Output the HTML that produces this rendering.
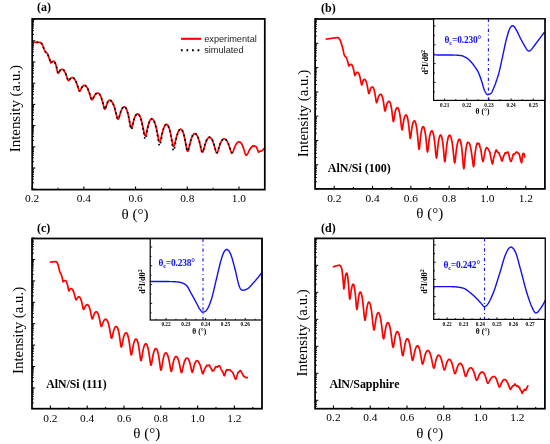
<!DOCTYPE html>
<html><head><meta charset="utf-8"><title>XRR figure</title>
<style>html,body{margin:0;padding:0;background:#fff;width:550px;height:444px;overflow:hidden}svg{display:block}</style>
</head><body>
<svg width="550" height="444" viewBox="0 0 550 444" font-family="'Liberation Serif', 'Times New Roman', serif">
<rect width="550" height="444" fill="#fff"/>
<text x="37.1" y="11.4" font-size="12" font-weight="bold">(a)</text>
<path d="M32.2,19.6h3.2M32.2,40.8h3.2M32.2,34.42h1.8M32.2,30.69h1.8M32.2,28.04h1.8M32.2,25.98h1.8M32.2,24.3h1.8M32.2,22.88h1.8M32.2,21.65h1.8M32.2,20.57h1.8M32.2,62h3.2M32.2,55.62h1.8M32.2,51.89h1.8M32.2,49.24h1.8M32.2,47.18h1.8M32.2,45.5h1.8M32.2,44.08h1.8M32.2,42.85h1.8M32.2,41.77h1.8M32.2,83.2h3.2M32.2,76.82h1.8M32.2,73.09h1.8M32.2,70.44h1.8M32.2,68.38h1.8M32.2,66.7h1.8M32.2,65.28h1.8M32.2,64.05h1.8M32.2,62.97h1.8M32.2,104.4h3.2M32.2,98.02h1.8M32.2,94.29h1.8M32.2,91.64h1.8M32.2,89.58h1.8M32.2,87.9h1.8M32.2,86.48h1.8M32.2,85.25h1.8M32.2,84.17h1.8M32.2,125.6h3.2M32.2,119.22h1.8M32.2,115.49h1.8M32.2,112.84h1.8M32.2,110.78h1.8M32.2,109.1h1.8M32.2,107.68h1.8M32.2,106.45h1.8M32.2,105.37h1.8M32.2,146.8h3.2M32.2,140.42h1.8M32.2,136.69h1.8M32.2,134.04h1.8M32.2,131.98h1.8M32.2,130.3h1.8M32.2,128.88h1.8M32.2,127.65h1.8M32.2,126.57h1.8M32.2,168h3.2M32.2,161.62h1.8M32.2,157.89h1.8M32.2,155.24h1.8M32.2,153.18h1.8M32.2,151.5h1.8M32.2,150.08h1.8M32.2,148.85h1.8M32.2,147.77h1.8M32.2,189.2h3.2M32.2,182.82h1.8M32.2,179.09h1.8M32.2,176.44h1.8M32.2,174.38h1.8M32.2,172.7h1.8M32.2,171.28h1.8M32.2,170.05h1.8M32.2,168.97h1.8" stroke="#000" stroke-width="1.0" fill="none"/>
<path d="M32.2,189.6v-3.2M83.89,189.6v-3.2M135.58,189.6v-3.2M187.27,189.6v-3.2M238.96,189.6v-3.2M58.04,189.6v-1.8M109.73,189.6v-1.8M161.42,189.6v-1.8M213.11,189.6v-1.8" stroke="#000" stroke-width="1.1" fill="none"/>
<text x="32.2" y="202.2" font-size="11.4" text-anchor="middle">0.2</text>
<text x="83.89" y="202.2" font-size="11.4" text-anchor="middle">0.4</text>
<text x="135.58" y="202.2" font-size="11.4" text-anchor="middle">0.6</text>
<text x="187.27" y="202.2" font-size="11.4" text-anchor="middle">0.8</text>
<text x="238.96" y="202.2" font-size="11.4" text-anchor="middle">1.0</text>
<path d="M32.8,42.4 L33.05,42.38 L33.31,42.37 L33.56,42.35 L33.81,42.34 L34.07,42.33 L34.32,42.33 L34.57,42.32 L34.83,42.31 L35.08,42.31 L35.34,42.31 L35.59,42.3 L35.84,42.3 L36.1,42.3 L36.35,42.3 L36.6,42.3 L36.86,42.3 L37.11,42.3 L37.36,42.3 L37.62,42.31 L37.87,42.32 L38.12,42.33 L38.38,42.35 L38.63,42.36 L38.88,42.39 L39.14,42.41 L39.39,42.44 L39.65,42.47 L39.9,42.5 L40.15,42.54 L40.41,42.58 L40.66,42.65 L40.91,42.8 L41.17,43.03 L41.42,43.32 L41.67,43.67 L41.93,44.06 L42.18,44.47 L42.43,44.89 L42.69,45.36 L42.94,45.98 L43.19,46.69 L43.45,47.45 L43.7,48.21 L43.95,48.92 L44.21,49.52 L44.46,50.04 L44.72,50.53 L44.97,50.99 L45.22,51.4 L45.48,51.77 L45.73,52.07 L45.98,52.32 L46.24,52.54 L46.49,52.75 L46.74,52.96 L47,53.19 L47.25,53.47 L47.5,53.81 L47.76,54.28 L48.01,54.89 L48.26,55.61 L48.52,56.37 L48.77,57.14 L49.03,57.87 L49.28,58.57 L49.53,59.28 L49.79,59.99 L50.04,60.71 L50.29,61.43 L50.55,62.16 L50.8,62.9 L51.01,62.84 L51.22,62.67 L51.42,62.45 L51.63,62.22 L51.84,62.01 L52.05,61.81 L52.25,61.65 L52.46,61.51 L52.67,61.39 L52.88,61.31 L53.08,61.25 L53.29,61.21 L53.5,61.2 L53.7,61.23 L53.91,61.31 L54.11,61.44 L54.32,61.63 L54.52,61.88 L54.73,62.18 L54.93,62.54 L55.13,62.96 L55.34,63.44 L55.54,63.98 L55.75,64.59 L55.95,65.26 L56.16,65.98 L56.36,66.77 L56.57,67.62 L56.77,68.5 L56.97,69.42 L57.18,70.34 L57.38,71.22 L57.59,72 L57.79,72.64 L58,73.05 L58.2,73.2 L58.41,73.12 L58.62,72.91 L58.83,72.6 L59.04,72.24 L59.26,71.86 L59.47,71.48 L59.68,71.13 L59.89,70.8 L60.1,70.51 L60.31,70.25 L60.52,70.02 L60.73,69.83 L60.94,69.66 L61.16,69.53 L61.37,69.43 L61.58,69.36 L61.79,69.31 L62,69.3 L62.21,69.31 L62.41,69.35 L62.62,69.42 L62.83,69.51 L63.03,69.63 L63.24,69.78 L63.44,69.95 L63.65,70.16 L63.86,70.39 L64.06,70.65 L64.27,70.93 L64.47,71.25 L64.68,71.6 L64.89,71.98 L65.09,72.39 L65.3,72.83 L65.51,73.3 L65.71,73.8 L65.92,74.33 L66.12,74.89 L66.33,75.47 L66.54,76.08 L66.74,76.7 L66.95,77.33 L67.16,77.95 L67.36,78.56 L67.57,79.13 L67.77,79.65 L67.98,80.09 L68.19,80.42 L68.39,80.63 L68.6,80.7 L68.81,80.64 L69.01,80.47 L69.22,80.22 L69.42,79.93 L69.63,79.63 L69.83,79.33 L70.04,79.05 L70.24,78.79 L70.45,78.56 L70.66,78.35 L70.86,78.17 L71.07,78.02 L71.27,77.89 L71.48,77.78 L71.68,77.7 L71.89,77.65 L72.09,77.61 L72.3,77.6 L72.5,77.61 L72.7,77.65 L72.9,77.7 L73.1,77.79 L73.3,77.89 L73.5,78.02 L73.7,78.17 L73.9,78.35 L74.1,78.55 L74.3,78.78 L74.5,79.03 L74.7,79.31 L74.9,79.61 L75.1,79.94 L75.3,80.29 L75.5,80.67 L75.7,81.08 L75.9,81.52 L76.1,81.98 L76.3,82.47 L76.5,82.99 L76.7,83.53 L76.9,84.1 L77.1,84.69 L77.3,85.3 L77.5,85.92 L77.7,86.56 L77.9,87.2 L78.1,87.83 L78.3,88.45 L78.5,89.03 L78.7,89.58 L78.9,90.06 L79.1,90.45 L79.3,90.75 L79.5,90.94 L79.7,91 L79.9,90.93 L80.11,90.74 L80.31,90.44 L80.52,90.07 L80.72,89.66 L80.93,89.24 L81.13,88.81 L81.33,88.39 L81.54,88 L81.74,87.63 L81.95,87.29 L82.15,86.98 L82.36,86.7 L82.56,86.45 L82.77,86.22 L82.97,86.03 L83.17,85.86 L83.38,85.72 L83.58,85.6 L83.79,85.51 L83.99,85.45 L84.2,85.41 L84.4,85.4 L84.61,85.41 L84.81,85.45 L85.02,85.51 L85.22,85.6 L85.43,85.71 L85.63,85.85 L85.84,86.02 L86.04,86.21 L86.25,86.42 L86.45,86.67 L86.66,86.94 L86.86,87.23 L87.07,87.56 L87.28,87.91 L87.48,88.29 L87.69,88.7 L87.89,89.14 L88.1,89.61 L88.3,90.11 L88.51,90.64 L88.71,91.19 L88.92,91.77 L89.12,92.38 L89.33,93.02 L89.54,93.67 L89.74,94.34 L89.95,95.02 L90.15,95.71 L90.36,96.39 L90.56,97.06 L90.77,97.69 L90.97,98.27 L91.18,98.78 L91.38,99.21 L91.59,99.53 L91.79,99.73 L92,99.8 L92.2,99.74 L92.41,99.58 L92.61,99.33 L92.81,99 L93.02,98.62 L93.22,98.21 L93.42,97.79 L93.63,97.36 L93.83,96.94 L94.04,96.53 L94.24,96.14 L94.44,95.77 L94.65,95.43 L94.85,95.1 L95.05,94.81 L95.26,94.53 L95.46,94.28 L95.66,94.05 L95.87,93.85 L96.07,93.67 L96.28,93.51 L96.48,93.37 L96.68,93.26 L96.89,93.17 L97.09,93.09 L97.29,93.04 L97.5,93.01 L97.7,93 L97.9,93.01 L98.11,93.06 L98.31,93.13 L98.51,93.24 L98.71,93.37 L98.92,93.54 L99.12,93.73 L99.32,93.96 L99.53,94.22 L99.73,94.51 L99.93,94.83 L100.13,95.18 L100.34,95.57 L100.54,95.99 L100.74,96.44 L100.94,96.93 L101.15,97.46 L101.35,98.01 L101.55,98.61 L101.76,99.23 L101.96,99.89 L102.16,100.59 L102.36,101.31 L102.57,102.06 L102.77,102.83 L102.97,103.61 L103.17,104.41 L103.38,105.2 L103.58,105.97 L103.78,106.71 L103.99,107.39 L104.19,108 L104.39,108.5 L104.59,108.88 L104.8,109.12 L105,109.2 L105.2,109.09 L105.41,108.78 L105.61,108.3 L105.82,107.71 L106.02,107.05 L106.23,106.36 L106.43,105.68 L106.63,105.01 L106.84,104.38 L107.04,103.79 L107.25,103.24 L107.45,102.74 L107.66,102.29 L107.86,101.88 L108.07,101.52 L108.27,101.21 L108.47,100.94 L108.68,100.71 L108.88,100.53 L109.09,100.38 L109.29,100.28 L109.5,100.22 L109.7,100.2 L109.9,100.21 L110.11,100.25 L110.31,100.32 L110.52,100.41 L110.72,100.54 L110.93,100.68 L111.13,100.86 L111.34,101.06 L111.54,101.29 L111.75,101.55 L111.95,101.84 L112.16,102.15 L112.36,102.5 L112.57,102.87 L112.77,103.28 L112.98,103.71 L113.18,104.18 L113.39,104.67 L113.59,105.2 L113.8,105.76 L114,106.35 L114.21,106.97 L114.41,107.62 L114.62,108.3 L114.82,109.01 L115.03,109.75 L115.23,110.51 L115.44,111.29 L115.64,112.09 L115.85,112.9 L116.05,113.71 L116.26,114.52 L116.46,115.31 L116.67,116.07 L116.87,116.78 L117.08,117.43 L117.28,118 L117.49,118.47 L117.69,118.81 L117.9,119.03 L118.1,119.1 L118.3,119.02 L118.51,118.78 L118.71,118.4 L118.91,117.9 L119.12,117.31 L119.32,116.67 L119.52,115.98 L119.73,115.29 L119.93,114.59 L120.13,113.9 L120.34,113.23 L120.54,112.59 L120.74,111.98 L120.95,111.41 L121.15,110.87 L121.35,110.36 L121.55,109.89 L121.76,109.45 L121.96,109.05 L122.16,108.68 L122.37,108.35 L122.57,108.05 L122.77,107.79 L122.98,107.55 L123.18,107.35 L123.38,107.18 L123.59,107.04 L123.79,106.94 L123.99,106.86 L124.2,106.82 L124.4,106.8 L124.6,106.82 L124.81,106.89 L125.01,106.99 L125.21,107.15 L125.41,107.34 L125.62,107.58 L125.82,107.87 L126.02,108.2 L126.23,108.57 L126.43,108.99 L126.63,109.46 L126.84,109.98 L127.04,110.54 L127.24,111.16 L127.44,111.82 L127.65,112.54 L127.85,113.3 L128.05,114.11 L128.26,114.98 L128.46,115.89 L128.66,116.85 L128.86,117.85 L129.07,118.89 L129.27,119.96 L129.47,121.04 L129.68,122.13 L129.88,123.21 L130.08,124.24 L130.29,125.2 L130.49,126.07 L130.69,126.79 L130.89,127.34 L131.1,127.68 L131.3,127.8 L131.5,127.71 L131.71,127.44 L131.91,127 L132.11,126.44 L132.32,125.78 L132.52,125.05 L132.72,124.28 L132.93,123.49 L133.13,122.7 L133.33,121.92 L133.54,121.17 L133.74,120.45 L133.94,119.76 L134.15,119.11 L134.35,118.49 L134.55,117.92 L134.75,117.39 L134.96,116.89 L135.16,116.44 L135.36,116.03 L135.57,115.65 L135.77,115.31 L135.97,115.01 L136.18,114.75 L136.38,114.52 L136.58,114.33 L136.79,114.18 L136.99,114.05 L137.19,113.97 L137.4,113.92 L137.6,113.9 L137.8,113.92 L138.01,113.97 L138.21,114.06 L138.41,114.19 L138.61,114.35 L138.82,114.55 L139.02,114.78 L139.22,115.06 L139.42,115.37 L139.63,115.72 L139.83,116.1 L140.03,116.53 L140.23,117 L140.44,117.5 L140.64,118.05 L140.84,118.64 L141.04,119.26 L141.25,119.94 L141.45,120.65 L141.65,121.4 L141.86,122.2 L142.06,123.03 L142.26,123.91 L142.46,124.82 L142.67,125.77 L142.87,126.74 L143.07,127.74 L143.27,128.74 L143.48,129.76 L143.68,130.76 L143.88,131.73 L144.08,132.65 L144.29,133.49 L144.49,134.24 L144.69,134.85 L144.89,135.32 L145.1,135.6 L145.3,135.7 L145.5,135.59 L145.71,135.28 L145.91,134.79 L146.11,134.14 L146.32,133.38 L146.52,132.53 L146.72,131.63 L146.93,130.7 L147.13,129.77 L147.33,128.85 L147.53,127.95 L147.74,127.09 L147.94,126.26 L148.14,125.47 L148.35,124.73 L148.55,124.03 L148.75,123.38 L148.96,122.77 L149.16,122.21 L149.36,121.7 L149.57,121.22 L149.77,120.8 L149.97,120.41 L150.18,120.07 L150.38,119.77 L150.58,119.51 L150.78,119.29 L150.99,119.11 L151.19,118.98 L151.39,118.88 L151.6,118.82 L151.8,118.8 L152,118.82 L152.21,118.87 L152.41,118.96 L152.61,119.09 L152.81,119.25 L153.02,119.45 L153.22,119.69 L153.42,119.96 L153.62,120.27 L153.83,120.62 L154.03,121.01 L154.23,121.43 L154.43,121.9 L154.64,122.4 L154.84,122.95 L155.04,123.54 L155.24,124.17 L155.45,124.84 L155.65,125.55 L155.85,126.3 L156.05,127.1 L156.26,127.93 L156.46,128.81 L156.66,129.73 L156.86,130.68 L157.07,131.66 L157.27,132.67 L157.47,133.7 L157.67,134.74 L157.88,135.77 L158.08,136.8 L158.28,137.79 L158.48,138.72 L158.69,139.58 L158.89,140.33 L159.09,140.95 L159.29,141.41 L159.5,141.7 L159.7,141.8 L159.9,141.7 L160.1,141.42 L160.3,140.96 L160.5,140.36 L160.7,139.65 L160.9,138.85 L161.1,137.99 L161.3,137.1 L161.5,136.2 L161.7,135.3 L161.9,134.42 L162.1,133.56 L162.3,132.73 L162.5,131.93 L162.7,131.18 L162.9,130.46 L163.1,129.79 L163.3,129.15 L163.5,128.56 L163.7,128.01 L163.9,127.5 L164.1,127.03 L164.3,126.61 L164.5,126.22 L164.7,125.87 L164.9,125.56 L165.1,125.28 L165.3,125.05 L165.5,124.85 L165.7,124.69 L165.9,124.56 L166.1,124.47 L166.3,124.42 L166.5,124.4 L166.7,124.42 L166.91,124.49 L167.11,124.59 L167.31,124.74 L167.51,124.94 L167.72,125.18 L167.92,125.46 L168.12,125.79 L168.33,126.16 L168.53,126.58 L168.73,127.04 L168.93,127.55 L169.14,128.11 L169.34,128.72 L169.54,129.38 L169.75,130.09 L169.95,130.84 L170.15,131.65 L170.35,132.51 L170.56,133.41 L170.76,134.37 L170.96,135.36 L171.17,136.4 L171.37,137.47 L171.57,138.57 L171.77,139.68 L171.98,140.8 L172.18,141.89 L172.38,142.93 L172.59,143.91 L172.79,144.77 L172.99,145.5 L173.19,146.04 L173.4,146.38 L173.6,146.5 L173.8,146.41 L174.01,146.14 L174.21,145.71 L174.41,145.15 L174.61,144.47 L174.82,143.71 L175.02,142.89 L175.22,142.03 L175.43,141.16 L175.63,140.29 L175.83,139.43 L176.03,138.59 L176.24,137.78 L176.44,137 L176.64,136.26 L176.85,135.55 L177.05,134.88 L177.25,134.24 L177.45,133.65 L177.66,133.1 L177.86,132.58 L178.06,132.11 L178.27,131.67 L178.47,131.27 L178.67,130.9 L178.87,130.58 L179.08,130.28 L179.28,130.03 L179.48,129.81 L179.69,129.62 L179.89,129.47 L180.09,129.35 L180.29,129.27 L180.5,129.22 L180.7,129.2 L180.9,129.22 L181.11,129.29 L181.31,129.4 L181.51,129.56 L181.71,129.77 L181.92,130.02 L182.12,130.32 L182.32,130.66 L182.53,131.06 L182.73,131.5 L182.93,131.99 L183.14,132.53 L183.34,133.12 L183.54,133.77 L183.74,134.46 L183.95,135.21 L184.15,136.01 L184.35,136.86 L184.56,137.77 L184.76,138.72 L184.96,139.73 L185.16,140.78 L185.37,141.87 L185.57,142.98 L185.77,144.12 L185.98,145.26 L186.18,146.39 L186.38,147.47 L186.59,148.48 L186.79,149.38 L186.99,150.14 L187.19,150.72 L187.4,151.08 L187.6,151.2 L187.8,151.11 L188.01,150.86 L188.21,150.44 L188.41,149.89 L188.61,149.24 L188.82,148.49 L189.02,147.69 L189.22,146.85 L189.43,145.99 L189.63,145.13 L189.83,144.28 L190.03,143.44 L190.24,142.63 L190.44,141.84 L190.64,141.09 L190.84,140.37 L191.05,139.69 L191.25,139.05 L191.45,138.44 L191.66,137.87 L191.86,137.34 L192.06,136.85 L192.26,136.39 L192.47,135.97 L192.67,135.59 L192.87,135.24 L193.07,134.92 L193.28,134.64 L193.48,134.4 L193.68,134.18 L193.89,134 L194.09,133.86 L194.29,133.75 L194.49,133.66 L194.7,133.62 L194.9,133.6 L195.1,133.62 L195.31,133.66 L195.51,133.75 L195.71,133.86 L195.91,134.01 L196.12,134.18 L196.32,134.4 L196.52,134.64 L196.72,134.92 L196.93,135.24 L197.13,135.59 L197.33,135.97 L197.54,136.39 L197.74,136.85 L197.94,137.34 L198.14,137.87 L198.35,138.44 L198.55,139.04 L198.75,139.68 L198.95,140.36 L199.16,141.08 L199.36,141.83 L199.56,142.62 L199.76,143.44 L199.97,144.28 L200.17,145.15 L200.37,146.03 L200.58,146.92 L200.78,147.8 L200.98,148.66 L201.18,149.47 L201.39,150.22 L201.59,150.89 L201.79,151.44 L201.99,151.85 L202.2,152.11 L202.4,152.2 L202.6,152.12 L202.81,151.89 L203.01,151.52 L203.21,151.03 L203.41,150.45 L203.62,149.8 L203.82,149.09 L204.02,148.35 L204.23,147.6 L204.43,146.85 L204.63,146.11 L204.83,145.39 L205.04,144.69 L205.24,144.02 L205.44,143.38 L205.65,142.77 L205.85,142.19 L206.05,141.64 L206.25,141.13 L206.46,140.66 L206.66,140.21 L206.86,139.8 L207.07,139.43 L207.27,139.08 L207.47,138.77 L207.67,138.49 L207.88,138.23 L208.08,138.01 L208.28,137.82 L208.49,137.66 L208.69,137.53 L208.89,137.43 L209.09,137.36 L209.3,137.31 L209.5,137.3 L209.7,137.31 L209.91,137.36 L210.11,137.43 L210.31,137.53 L210.51,137.66 L210.72,137.82 L210.92,138.01 L211.12,138.22 L211.32,138.47 L211.53,138.75 L211.73,139.06 L211.93,139.4 L212.14,139.77 L212.34,140.18 L212.54,140.62 L212.74,141.09 L212.95,141.59 L213.15,142.13 L213.35,142.7 L213.56,143.3 L213.76,143.94 L213.96,144.61 L214.16,145.3 L214.37,146.02 L214.57,146.76 L214.77,147.52 L214.98,148.29 L215.18,149.05 L215.38,149.79 L215.58,150.5 L215.79,151.16 L215.99,151.74 L216.19,152.23 L216.39,152.59 L216.6,152.82 L216.8,152.9 L217.01,152.83 L217.21,152.63 L217.42,152.3 L217.62,151.86 L217.83,151.34 L218.03,150.75 L218.24,150.11 L218.44,149.44 L218.65,148.76 L218.86,148.07 L219.06,147.39 L219.27,146.73 L219.47,146.08 L219.68,145.46 L219.88,144.86 L220.09,144.29 L220.29,143.75 L220.5,143.23 L220.71,142.75 L220.91,142.3 L221.12,141.88 L221.32,141.48 L221.53,141.12 L221.73,140.79 L221.94,140.48 L222.14,140.2 L222.35,139.95 L222.56,139.73 L222.76,139.53 L222.97,139.36 L223.17,139.22 L223.38,139.11 L223.58,139.02 L223.79,138.95 L223.99,138.91 L224.2,138.9 L224.4,138.91 L224.6,138.94 L224.8,139 L225,139.08 L225.2,139.17 L225.4,139.3 L225.6,139.44 L225.8,139.61 L226,139.79 L226.2,140.01 L226.4,140.24 L226.6,140.5 L226.8,140.79 L227,141.09 L227.2,141.43 L227.4,141.78 L227.6,142.17 L227.8,142.57 L228,143.01 L228.2,143.47 L228.4,143.95 L228.6,144.46 L228.8,144.99 L229,145.55 L229.2,146.13 L229.4,146.73 L229.6,147.34 L229.8,147.97 L230,148.6 L230.2,149.23 L230.4,149.85 L230.6,150.46 L230.8,151.03 L231,151.55 L231.2,152.01 L231.4,152.38 L231.6,152.67 L231.8,152.84 L232,152.9 L232.2,152.84 L232.41,152.67 L232.61,152.4 L232.81,152.03 L233.01,151.6 L233.22,151.11 L233.42,150.58 L233.62,150.03 L233.83,149.48 L234.03,148.92 L234.23,148.37 L234.43,147.83 L234.64,147.31 L234.84,146.81 L235.04,146.33 L235.25,145.87 L235.45,145.44 L235.65,145.04 L235.85,144.66 L236.06,144.3 L236.26,143.97 L236.46,143.66 L236.67,143.38 L236.87,143.13 L237.07,142.89 L237.27,142.68 L237.48,142.5 L237.68,142.33 L237.88,142.19 L238.09,142.07 L238.29,141.97 L238.49,141.9 L238.69,141.84 L238.9,141.81 L239.1,141.8 L239.3,141.81 L239.51,141.85 L239.71,141.92 L239.91,142.01 L240.11,142.13 L240.32,142.28 L240.52,142.46 L240.72,142.67 L240.93,142.9 L241.13,143.14 L241.33,143.41 L241.53,143.69 L241.74,143.99 L241.94,144.35 L242.14,144.76 L242.35,145.21 L242.55,145.69 L242.75,146.19 L242.95,146.7 L243.16,147.24 L243.36,147.81 L243.56,148.4 L243.77,149.02 L243.97,149.67 L244.17,150.33 L244.37,151 L244.58,151.67 L244.78,152.34 L244.98,152.99 L245.19,153.59 L245.39,154.13 L245.59,154.59 L245.79,154.95 L246,155.18 L246.2,155.27 L246.4,155.25 L246.61,155.13 L246.81,154.95 L247.01,154.7 L247.21,154.39 L247.42,154.07 L247.62,153.71 L247.82,153.33 L248.02,152.94 L248.23,152.5 L248.43,152.05 L248.63,151.59 L248.83,151.15 L249.04,150.73 L249.24,150.4 L249.44,150.09 L249.64,149.8 L249.85,149.53 L250.05,149.13 L250.25,148.68 L250.45,148.26 L250.66,147.85 L250.86,147.55 L251.06,147.49 L251.26,147.45 L251.47,147.42 L251.67,147.41 L251.87,147.07 L252.07,146.68 L252.28,146.31 L252.48,145.95 L252.68,145.77 L252.88,145.85 L253.09,145.94 L253.29,146.04 L253.49,146.16 L253.69,146.07 L253.9,145.98 L254.1,145.9 L254.31,145.84 L254.52,145.88 L254.73,145.98 L254.93,146.11 L255.14,146.28 L255.35,146.42 L255.56,146.49 L255.77,146.58 L255.98,146.69 L256.19,146.84 L256.4,147.15 L256.6,147.49 L256.81,147.87 L257.02,148.27 L257.23,148.8 L257.44,149.4 L257.65,150.02 L257.86,150.64 L258.07,151.2 L258.27,151.63 L258.48,151.99 L258.69,152.24 L258.9,152.36 L259.27,151.86 L259.63,151.36 L260,151.14 L260.37,151.14 L260.73,151.14 L261.1,151.05 L261.47,150.96 L261.83,150.82 L262.2,150.65 L262.57,150.4 L262.93,149.83 L263.3,149.25 L263.67,148.95 L264.03,148.74 L264.4,148.56" fill="none" stroke="#ff0000" stroke-width="1.7" stroke-linejoin="round" stroke-linecap="round"/>
<path d="M32.8,42.4 L33.05,42.38 L33.31,42.37 L33.56,42.35 L33.81,42.34 L34.07,42.33 L34.32,42.33 L34.57,42.32 L34.83,42.31 L35.08,42.31 L35.34,42.31 L35.59,42.3 L35.84,42.3 L36.1,42.3 L36.35,42.3 L36.6,42.3 L36.86,42.3 L37.11,42.3 L37.36,42.3 L37.62,42.31 L37.87,42.32 L38.12,42.33 L38.38,42.35 L38.63,42.36 L38.88,42.39 L39.14,42.41 L39.39,42.44 L39.65,42.47 L39.9,42.5 L40.15,42.54 L40.41,42.58 L40.66,42.65 L40.91,42.8 L41.17,43.03 L41.42,43.32 L41.67,43.67 L41.93,44.06 L42.18,44.47 L42.43,44.89 L42.69,45.36 L42.94,45.98 L43.19,46.69 L43.45,47.45 L43.7,48.21 L43.95,48.92 L44.21,49.52 L44.46,50.04 L44.72,50.53 L44.97,50.99 L45.22,51.4 L45.48,51.77 L45.73,52.07 L45.98,52.32 L46.24,52.54 L46.49,52.75 L46.74,52.96 L47,53.19 L47.25,53.47 L47.5,53.81 L47.76,54.28 L48.01,54.89 L48.26,55.61 L48.52,56.37 L48.77,57.14 L49.03,57.87 L49.28,58.57 L49.53,59.28 L49.79,59.99 L50.04,60.71 L50.29,61.43 L50.55,62.16 L50.8,62.9 L51.01,62.83 L51.22,62.64 L51.42,62.41 L51.63,62.18 L51.84,61.96 L52.05,61.77 L52.25,61.61 L52.46,61.48 L52.67,61.38 L52.88,61.3 L53.08,61.24 L53.29,61.21 L53.5,61.2 L53.7,61.22 L53.91,61.3 L54.11,61.42 L54.32,61.6 L54.52,61.82 L54.73,62.1 L54.93,62.44 L55.13,62.83 L55.34,63.27 L55.54,63.78 L55.75,64.35 L55.95,64.98 L56.16,65.68 L56.36,66.44 L56.57,67.27 L56.77,68.15 L56.97,69.08 L57.18,70.04 L57.38,70.97 L57.59,71.84 L57.79,72.55 L58,73.03 L58.2,73.2 L58.41,73.11 L58.62,72.87 L58.83,72.53 L59.04,72.14 L59.26,71.74 L59.47,71.37 L59.68,71.02 L59.89,70.7 L60.1,70.42 L60.31,70.18 L60.52,69.97 L60.73,69.78 L60.94,69.63 L61.16,69.51 L61.37,69.42 L61.58,69.35 L61.79,69.31 L62,69.3 L62.21,69.31 L62.41,69.35 L62.62,69.41 L62.83,69.49 L63.03,69.6 L63.24,69.74 L63.44,69.9 L63.65,70.09 L63.86,70.3 L64.06,70.54 L64.27,70.81 L64.47,71.1 L64.68,71.43 L64.89,71.78 L65.09,72.17 L65.3,72.59 L65.51,73.03 L65.71,73.51 L65.92,74.03 L66.12,74.57 L66.33,75.14 L66.54,75.75 L66.74,76.37 L66.95,77.02 L67.16,77.67 L67.36,78.31 L67.57,78.93 L67.77,79.5 L67.98,79.99 L68.19,80.37 L68.39,80.62 L68.6,80.7 L68.81,80.63 L69.01,80.44 L69.22,80.16 L69.42,79.86 L69.63,79.54 L69.83,79.24 L70.04,78.97 L70.24,78.72 L70.45,78.49 L70.66,78.3 L70.86,78.13 L71.07,77.99 L71.27,77.87 L71.48,77.77 L71.68,77.69 L71.89,77.64 L72.09,77.61 L72.3,77.6 L72.5,77.61 L72.7,77.64 L72.9,77.7 L73.1,77.77 L73.3,77.87 L73.5,77.99 L73.7,78.13 L73.9,78.29 L74.1,78.48 L74.3,78.68 L74.5,78.92 L74.7,79.17 L74.9,79.45 L75.1,79.76 L75.3,80.09 L75.5,80.45 L75.7,80.83 L75.9,81.25 L76.1,81.68 L76.3,82.15 L76.5,82.65 L76.7,83.17 L76.9,83.72 L77.1,84.3 L77.3,84.91 L77.5,85.53 L77.7,86.18 L77.9,86.83 L78.1,87.5 L78.3,88.15 L78.5,88.78 L78.7,89.38 L78.9,89.92 L79.1,90.37 L79.3,90.71 L79.5,90.93 L79.7,91 L79.9,90.92 L80.11,90.7 L80.31,90.36 L80.52,89.96 L80.72,89.52 L80.93,89.08 L81.13,88.65 L81.33,88.23 L81.54,87.85 L81.74,87.49 L81.95,87.17 L82.15,86.87 L82.36,86.6 L82.56,86.37 L82.77,86.16 L82.97,85.98 L83.17,85.82 L83.38,85.69 L83.58,85.59 L83.79,85.5 L83.99,85.45 L84.2,85.41 L84.4,85.4 L84.61,85.41 L84.81,85.45 L85.02,85.5 L85.22,85.58 L85.43,85.69 L85.63,85.82 L85.84,85.97 L86.04,86.14 L86.25,86.34 L86.45,86.57 L86.66,86.82 L86.86,87.09 L87.07,87.39 L87.28,87.72 L87.48,88.08 L87.69,88.46 L87.89,88.88 L88.1,89.32 L88.3,89.79 L88.51,90.29 L88.71,90.82 L88.92,91.39 L89.12,91.98 L89.33,92.6 L89.54,93.25 L89.74,93.92 L89.95,94.62 L90.15,95.32 L90.36,96.03 L90.56,96.74 L90.77,97.42 L90.97,98.06 L91.18,98.63 L91.38,99.12 L91.59,99.49 L91.79,99.72 L92,99.8 L92.2,99.73 L92.41,99.55 L92.61,99.26 L92.81,98.89 L93.02,98.48 L93.22,98.05 L93.42,97.6 L93.63,97.16 L93.83,96.74 L94.04,96.34 L94.24,95.96 L94.44,95.6 L94.65,95.27 L94.85,94.96 L95.05,94.68 L95.26,94.42 L95.46,94.18 L95.66,93.97 L95.87,93.78 L96.07,93.62 L96.28,93.47 L96.48,93.34 L96.68,93.24 L96.89,93.15 L97.09,93.09 L97.29,93.04 L97.5,93.01 L97.7,93 L97.9,93.01 L98.11,93.05 L98.31,93.12 L98.51,93.22 L98.71,93.34 L98.92,93.49 L99.12,93.67 L99.32,93.88 L99.53,94.12 L99.73,94.39 L99.93,94.68 L100.13,95.01 L100.34,95.37 L100.54,95.76 L100.74,96.19 L100.94,96.65 L101.15,97.14 L101.35,97.67 L101.55,98.23 L101.76,98.83 L101.96,99.47 L102.16,100.14 L102.36,100.85 L102.57,101.59 L102.77,102.35 L102.97,103.15 L103.17,103.96 L103.38,104.79 L103.58,105.6 L103.78,106.4 L103.99,107.15 L104.19,107.82 L104.39,108.39 L104.59,108.83 L104.8,109.11 L105,109.2 L105.2,109.07 L105.41,108.71 L105.61,108.18 L105.82,107.53 L106.02,106.83 L106.23,106.11 L106.43,105.42 L106.63,104.75 L106.84,104.13 L107.04,103.56 L107.25,103.04 L107.45,102.56 L107.66,102.14 L107.86,101.76 L108.07,101.42 L108.27,101.13 L108.47,100.88 L108.68,100.67 L108.88,100.5 L109.09,100.37 L109.29,100.27 L109.5,100.22 L109.7,100.2 L109.9,100.21 L110.11,100.25 L110.31,100.31 L110.52,100.4 L110.72,100.51 L110.93,100.64 L111.13,100.8 L111.34,100.99 L111.54,101.2 L111.75,101.44 L111.95,101.71 L112.16,102 L112.36,102.32 L112.57,102.67 L112.77,103.04 L112.98,103.45 L113.18,103.88 L113.39,104.35 L113.59,104.84 L113.8,105.37 L114,105.93 L114.21,106.52 L114.41,107.15 L114.62,107.8 L114.82,108.49 L115.03,109.21 L115.23,109.96 L115.44,110.74 L115.64,111.54 L115.85,112.36 L116.05,113.2 L116.26,114.04 L116.46,114.88 L116.67,115.7 L116.87,116.48 L117.08,117.2 L117.28,117.83 L117.49,118.37 L117.69,118.77 L117.9,119.02 L118.1,119.1 L118.3,119 L118.51,118.72 L118.71,118.29 L118.91,117.73 L119.12,117.09 L119.32,116.39 L119.52,115.67 L119.73,114.94 L119.93,114.23 L120.13,113.54 L120.34,112.88 L120.54,112.25 L120.74,111.66 L120.95,111.11 L121.15,110.59 L121.35,110.11 L121.55,109.66 L121.76,109.25 L121.96,108.88 L122.16,108.54 L122.37,108.23 L122.57,107.95 L122.77,107.71 L122.98,107.49 L123.18,107.31 L123.38,107.15 L123.59,107.02 L123.79,106.93 L123.99,106.86 L124.2,106.81 L124.4,106.8 L124.6,106.82 L124.81,106.88 L125.01,106.99 L125.21,107.14 L125.41,107.33 L125.62,107.57 L125.82,107.85 L126.02,108.17 L126.23,108.55 L126.43,108.96 L126.63,109.43 L126.84,109.94 L127.04,110.51 L127.24,111.12 L127.44,111.79 L127.65,112.51 L127.85,113.28 L128.05,114.11 L128.26,115 L128.46,115.94 L128.66,116.94 L128.86,117.99 L129.07,119.1 L129.27,120.24 L129.47,121.43 L129.68,122.63 L129.88,123.84 L130.08,125.02 L130.29,126.15 L130.49,127.18 L130.69,128.05 L130.89,128.73 L131.1,129.15 L131.3,129.3 L131.5,129.18 L131.71,128.83 L131.91,128.28 L132.11,127.58 L132.32,126.78 L132.52,125.91 L132.72,125 L132.93,124.1 L133.13,123.2 L133.33,122.34 L133.54,121.51 L133.74,120.73 L133.94,119.99 L134.15,119.29 L134.35,118.64 L134.55,118.04 L134.75,117.49 L134.96,116.97 L135.16,116.5 L135.36,116.08 L135.57,115.69 L135.77,115.34 L135.97,115.03 L136.18,114.77 L136.38,114.53 L136.58,114.34 L136.79,114.18 L136.99,114.06 L137.19,113.97 L137.4,113.92 L137.6,113.9 L137.8,113.92 L138.01,113.98 L138.21,114.07 L138.41,114.21 L138.61,114.38 L138.82,114.59 L139.02,114.84 L139.22,115.13 L139.42,115.46 L139.63,115.83 L139.83,116.25 L140.03,116.7 L140.23,117.2 L140.44,117.75 L140.64,118.33 L140.84,118.97 L141.04,119.65 L141.25,120.38 L141.45,121.16 L141.65,121.99 L141.86,122.87 L142.06,123.8 L142.26,124.78 L142.46,125.81 L142.67,126.89 L142.87,128.01 L143.07,129.16 L143.27,130.35 L143.48,131.56 L143.68,132.77 L143.88,133.97 L144.08,135.12 L144.29,136.19 L144.49,137.16 L144.69,137.97 L144.89,138.58 L145.1,138.97 L145.3,139.1 L145.5,138.95 L145.71,138.52 L145.91,137.84 L146.11,136.96 L146.32,135.95 L146.52,134.84 L146.72,133.7 L146.93,132.54 L147.13,131.39 L147.33,130.28 L147.53,129.21 L147.74,128.18 L147.94,127.21 L148.14,126.3 L148.35,125.45 L148.55,124.65 L148.75,123.91 L148.96,123.22 L149.16,122.59 L149.36,122.01 L149.57,121.49 L149.77,121.01 L149.97,120.58 L150.18,120.2 L150.38,119.87 L150.58,119.58 L150.78,119.34 L150.99,119.15 L151.19,118.99 L151.39,118.89 L151.6,118.82 L151.8,118.8 L152,118.82 L152.21,118.88 L152.41,118.97 L152.61,119.11 L152.81,119.28 L153.02,119.5 L153.22,119.75 L153.42,120.05 L153.62,120.38 L153.83,120.76 L154.03,121.18 L154.23,121.64 L154.43,122.14 L154.64,122.69 L154.84,123.29 L155.04,123.93 L155.24,124.62 L155.45,125.35 L155.65,126.14 L155.85,126.98 L156.05,127.86 L156.26,128.8 L156.46,129.79 L156.66,130.83 L156.86,131.92 L157.07,133.06 L157.27,134.23 L157.47,135.45 L157.67,136.69 L157.88,137.95 L158.08,139.21 L158.28,140.44 L158.48,141.63 L158.69,142.74 L158.89,143.72 L159.09,144.55 L159.29,145.18 L159.5,145.57 L159.7,145.7 L159.9,145.56 L160.1,145.16 L160.3,144.52 L160.5,143.69 L160.7,142.72 L160.9,141.65 L161.1,140.53 L161.3,139.39 L161.5,138.25 L161.7,137.13 L161.9,136.04 L162.1,135 L162.3,134 L162.5,133.06 L162.7,132.16 L162.9,131.32 L163.1,130.54 L163.3,129.8 L163.5,129.12 L163.7,128.49 L163.9,127.91 L164.1,127.38 L164.3,126.89 L164.5,126.45 L164.7,126.05 L164.9,125.7 L165.1,125.39 L165.3,125.13 L165.5,124.9 L165.7,124.72 L165.9,124.58 L166.1,124.48 L166.3,124.42 L166.5,124.4 L166.7,124.42 L166.91,124.49 L167.11,124.61 L167.31,124.78 L167.51,124.99 L167.72,125.25 L167.92,125.56 L168.12,125.92 L168.33,126.33 L168.53,126.79 L168.73,127.31 L168.93,127.87 L169.14,128.5 L169.34,129.17 L169.54,129.91 L169.75,130.7 L169.95,131.56 L170.15,132.47 L170.35,133.45 L170.56,134.49 L170.76,135.59 L170.96,136.75 L171.17,137.97 L171.37,139.25 L171.57,140.57 L171.77,141.92 L171.98,143.3 L172.18,144.67 L172.38,146.01 L172.59,147.28 L172.79,148.43 L172.99,149.41 L173.19,150.16 L173.4,150.64 L173.6,150.8 L173.8,150.67 L174.01,150.28 L174.21,149.67 L174.41,148.86 L174.61,147.92 L174.82,146.88 L175.02,145.79 L175.22,144.66 L175.43,143.54 L175.63,142.43 L175.83,141.35 L176.03,140.3 L176.24,139.31 L176.44,138.36 L176.64,137.45 L176.85,136.6 L177.05,135.81 L177.25,135.06 L177.45,134.36 L177.66,133.71 L177.86,133.11 L178.06,132.55 L178.27,132.04 L178.47,131.58 L178.67,131.16 L178.87,130.78 L179.08,130.44 L179.28,130.15 L179.48,129.9 L179.69,129.68 L179.89,129.51 L180.09,129.37 L180.29,129.28 L180.5,129.22 L180.7,129.2 L180.9,129.22 L181.11,129.28 L181.31,129.39 L181.51,129.53 L181.71,129.72 L181.92,129.95 L182.12,130.23 L182.32,130.54 L182.53,130.91 L182.73,131.32 L182.93,131.77 L183.14,132.27 L183.34,132.82 L183.54,133.43 L183.74,134.08 L183.95,134.78 L184.15,135.54 L184.35,136.35 L184.56,137.22 L184.76,138.14 L184.96,139.12 L185.16,140.15 L185.37,141.22 L185.57,142.35 L185.77,143.5 L185.98,144.68 L186.18,145.86 L186.38,147.02 L186.59,148.12 L186.79,149.12 L186.99,149.98 L187.19,150.64 L187.4,151.06 L187.6,151.2 L187.8,151.1 L188.01,150.8 L188.21,150.32 L188.41,149.7 L188.61,148.97 L188.82,148.15 L189.02,147.29 L189.22,146.4 L189.43,145.51 L189.63,144.63 L189.83,143.76 L190.03,142.93 L190.24,142.12 L190.44,141.36 L190.64,140.63 L190.84,139.94 L191.05,139.28 L191.25,138.67 L191.45,138.1 L191.66,137.56 L191.86,137.06 L192.06,136.6 L192.26,136.18 L192.47,135.79 L192.67,135.43 L192.87,135.11 L193.07,134.82 L193.28,134.56 L193.48,134.33 L193.68,134.14 L193.89,133.97 L194.09,133.84 L194.29,133.73 L194.49,133.66 L194.7,133.61 L194.9,133.6 L195.1,133.61 L195.31,133.66 L195.51,133.73 L195.71,133.84 L195.91,133.97 L196.12,134.14 L196.32,134.33 L196.52,134.56 L196.72,134.82 L196.93,135.11 L197.13,135.43 L197.33,135.78 L197.54,136.17 L197.74,136.6 L197.94,137.06 L198.14,137.56 L198.35,138.09 L198.55,138.66 L198.75,139.27 L198.95,139.92 L199.16,140.61 L199.36,141.33 L199.56,142.1 L199.76,142.9 L199.97,143.74 L200.17,144.61 L200.37,145.5 L200.58,146.42 L200.78,147.34 L200.98,148.25 L201.18,149.13 L201.39,149.95 L201.59,150.69 L201.79,151.32 L201.99,151.8 L202.2,152.1 L202.4,152.2 L202.6,152.11 L202.81,151.84 L203.01,151.42 L203.21,150.86 L203.41,150.22 L203.62,149.5 L203.82,148.74 L204.02,147.97 L204.23,147.19 L204.43,146.42 L204.63,145.68 L204.83,144.96 L205.04,144.27 L205.24,143.62 L205.44,142.99 L205.65,142.41 L205.85,141.86 L206.05,141.34 L206.25,140.86 L206.46,140.41 L206.66,139.99 L206.86,139.61 L207.07,139.26 L207.27,138.94 L207.47,138.65 L207.67,138.39 L207.88,138.16 L208.08,137.96 L208.28,137.78 L208.49,137.63 L208.69,137.51 L208.89,137.42 L209.09,137.35 L209.3,137.31 L209.5,137.3 L209.7,137.31 L209.91,137.35 L210.11,137.42 L210.31,137.51 L210.51,137.63 L210.72,137.78 L210.92,137.95 L211.12,138.15 L211.32,138.38 L211.53,138.64 L211.73,138.92 L211.93,139.24 L212.14,139.58 L212.34,139.96 L212.54,140.37 L212.74,140.81 L212.95,141.29 L213.15,141.8 L213.35,142.34 L213.56,142.92 L213.76,143.53 L213.96,144.17 L214.16,144.86 L214.37,145.57 L214.57,146.31 L214.77,147.07 L214.98,147.86 L215.18,148.65 L215.38,149.44 L215.58,150.2 L215.79,150.92 L215.99,151.57 L216.19,152.12 L216.39,152.54 L216.6,152.81 L216.8,152.9 L217.01,152.82 L217.21,152.58 L217.42,152.2 L217.62,151.71 L217.83,151.12 L218.03,150.48 L218.24,149.79 L218.44,149.09 L218.65,148.37 L218.86,147.67 L219.06,146.98 L219.27,146.32 L219.47,145.68 L219.68,145.07 L219.88,144.49 L220.09,143.94 L220.29,143.42 L220.5,142.93 L220.71,142.48 L220.91,142.05 L221.12,141.66 L221.32,141.29 L221.53,140.95 L221.73,140.64 L221.94,140.36 L222.14,140.1 L222.35,139.87 L222.56,139.66 L222.76,139.48 L222.97,139.33 L223.17,139.2 L223.38,139.09 L223.58,139.01 L223.79,138.95 L223.99,138.91 L224.2,138.9 L224.4,138.91 L224.6,138.94 L224.8,138.99 L225,139.06 L225.2,139.15 L225.4,139.26 L225.6,139.4 L225.8,139.55 L226,139.72 L226.2,139.92 L226.4,140.14 L226.6,140.38 L226.8,140.64 L227,140.93 L227.2,141.23 L227.4,141.57 L227.6,141.93 L227.8,142.31 L228,142.72 L228.2,143.16 L228.4,143.62 L228.6,144.11 L228.8,144.62 L229,145.16 L229.2,145.73 L229.4,146.32 L229.6,146.93 L229.8,147.56 L230,148.21 L230.2,148.87 L230.4,149.52 L230.6,150.16 L230.8,150.78 L231,151.36 L231.2,151.87 L231.4,152.3 L231.6,152.63 L231.8,152.83 L232,152.9" fill="none" stroke="#000" stroke-width="1.9" stroke-linejoin="round" stroke-linecap="round" stroke-dasharray="0.01,4.6" stroke-linecap="square"/>
<path d="M181,38.8H201.2" stroke="#ff0000" stroke-width="2.1"/>
<path d="M180.9,50.3H201.2" stroke="#000" stroke-width="1.9" stroke-dasharray="1.8,3.75" />
<text x="204.2" y="41.8" font-size="9.2" font-family="'Liberation Sans', Arial, sans-serif" fill="#222">experimental</text>
<text x="204.2" y="53.4" font-size="9.2" font-family="'Liberation Sans', Arial, sans-serif" fill="#222">simulated</text>
<rect x="32.2" y="18.9" width="232.6" height="170.7" fill="none" stroke="#000" stroke-width="1.75"/>
<text transform="translate(20.3,108.6) rotate(-90)" font-size="14.9" text-anchor="middle">Intensity (a.u.)</text>
<text x="135" y="218.5" font-size="15" text-anchor="middle">θ (°)</text>
<text x="321" y="11.6" font-size="12" font-weight="bold">(b)</text>
<path d="M315.1,19h3.2M315.1,43.3h3.2M315.1,35.98h1.8M315.1,31.71h1.8M315.1,28.67h1.8M315.1,26.32h1.8M315.1,24.39h1.8M315.1,22.76h1.8M315.1,21.35h1.8M315.1,20.11h1.8M315.1,67.6h3.2M315.1,60.28h1.8M315.1,56.01h1.8M315.1,52.97h1.8M315.1,50.62h1.8M315.1,48.69h1.8M315.1,47.06h1.8M315.1,45.65h1.8M315.1,44.41h1.8M315.1,91.9h3.2M315.1,84.58h1.8M315.1,80.31h1.8M315.1,77.27h1.8M315.1,74.92h1.8M315.1,72.99h1.8M315.1,71.36h1.8M315.1,69.95h1.8M315.1,68.71h1.8M315.1,116.2h3.2M315.1,108.88h1.8M315.1,104.61h1.8M315.1,101.57h1.8M315.1,99.22h1.8M315.1,97.29h1.8M315.1,95.66h1.8M315.1,94.25h1.8M315.1,93.01h1.8M315.1,140.5h3.2M315.1,133.18h1.8M315.1,128.91h1.8M315.1,125.87h1.8M315.1,123.52h1.8M315.1,121.59h1.8M315.1,119.96h1.8M315.1,118.55h1.8M315.1,117.31h1.8M315.1,164.8h3.2M315.1,157.48h1.8M315.1,153.21h1.8M315.1,150.17h1.8M315.1,147.82h1.8M315.1,145.89h1.8M315.1,144.26h1.8M315.1,142.85h1.8M315.1,141.61h1.8M315.1,189.1h3.2M315.1,181.78h1.8M315.1,177.51h1.8M315.1,174.47h1.8M315.1,172.12h1.8M315.1,170.19h1.8M315.1,168.56h1.8M315.1,167.15h1.8M315.1,165.91h1.8" stroke="#000" stroke-width="1.0" fill="none"/>
<path d="M334.25,188.9v-3.2M372.55,188.9v-3.2M410.85,188.9v-3.2M449.15,188.9v-3.2M487.45,188.9v-3.2M525.75,188.9v-3.2M353.4,188.9v-1.8M391.7,188.9v-1.8M430,188.9v-1.8M468.3,188.9v-1.8M506.6,188.9v-1.8" stroke="#000" stroke-width="1.1" fill="none"/>
<text x="334.25" y="202" font-size="11.4" text-anchor="middle">0.2</text>
<text x="372.55" y="202" font-size="11.4" text-anchor="middle">0.4</text>
<text x="410.85" y="202" font-size="11.4" text-anchor="middle">0.6</text>
<text x="449.15" y="202" font-size="11.4" text-anchor="middle">0.8</text>
<text x="487.45" y="202" font-size="11.4" text-anchor="middle">1.0</text>
<text x="525.75" y="202" font-size="11.4" text-anchor="middle">1.2</text>
<path d="M326.4,39.1 L326.65,39.06 L326.91,39.02 L327.16,38.98 L327.41,38.94 L327.67,38.9 L327.92,38.87 L328.17,38.83 L328.43,38.79 L328.68,38.75 L328.93,38.72 L329.19,38.68 L329.44,38.64 L329.69,38.61 L329.95,38.57 L330.2,38.54 L330.45,38.5 L330.71,38.47 L330.96,38.43 L331.21,38.4 L331.47,38.37 L331.72,38.34 L331.97,38.3 L332.23,38.27 L332.48,38.24 L332.74,38.2 L332.99,38.16 L333.24,38.13 L333.5,38.09 L333.75,38.05 L334,38.01 L334.26,37.97 L334.51,37.94 L334.76,37.9 L335.02,37.86 L335.27,37.83 L335.52,37.8 L335.78,37.76 L336.03,37.73 L336.28,37.71 L336.54,37.68 L336.79,37.66 L337.04,37.64 L337.3,37.63 L337.55,37.61 L337.8,37.61 L338.06,37.6 L338.31,37.61 L338.56,37.75 L338.82,38 L339.07,38.35 L339.32,38.76 L339.58,39.22 L339.83,39.69 L340.08,40.16 L340.34,40.69 L340.59,41.3 L340.84,41.98 L341.1,42.72 L341.35,43.51 L341.6,44.35 L341.86,45.21 L342.11,46.1 L342.36,47 L342.62,47.91 L342.87,48.87 L343.12,50.01 L343.38,51.25 L343.63,52.5 L343.89,53.65 L344.14,54.61 L344.39,55.28 L344.65,55.71 L344.9,56.04 L345.15,56.3 L345.41,56.53 L345.66,56.77 L345.91,57.04 L346.17,57.38 L346.42,57.82 L346.67,58.38 L346.93,59.04 L347.18,59.81 L347.43,60.66 L347.69,61.59 L347.94,62.6 L348.19,63.68 L348.45,64.81 L348.7,66 L348.91,65.89 L349.12,65.64 L349.33,65.37 L349.54,65.12 L349.75,64.92 L349.95,64.75 L350.16,64.62 L350.37,64.52 L350.58,64.45 L350.79,64.41 L351,64.4 L351.2,64.43 L351.4,64.51 L351.6,64.65 L351.8,64.85 L352,65.1 L352.2,65.42 L352.4,65.8 L352.6,66.25 L352.8,66.77 L353,67.37 L353.2,68.04 L353.4,68.8 L353.6,69.65 L353.8,70.58 L354,71.58 L354.2,72.63 L354.4,73.67 L354.6,74.6 L354.8,75.26 L355,75.5 L355.21,75.28 L355.42,74.78 L355.63,74.24 L355.84,73.74 L356.05,73.33 L356.25,73 L356.46,72.74 L356.67,72.54 L356.88,72.41 L357.09,72.33 L357.3,72.3 L357.5,72.33 L357.71,72.4 L357.91,72.54 L358.12,72.72 L358.32,72.96 L358.53,73.25 L358.73,73.61 L358.94,74.03 L359.14,74.51 L359.35,75.05 L359.55,75.67 L359.75,76.36 L359.96,77.14 L360.16,77.99 L360.37,78.92 L360.57,79.93 L360.78,80.99 L360.98,82.08 L361.19,83.13 L361.39,84.04 L361.6,84.67 L361.8,84.9 L362.02,84.58 L362.23,83.83 L362.45,82.96 L362.67,82.15 L362.88,81.45 L363.1,80.87 L363.32,80.4 L363.53,80.03 L363.75,79.75 L363.97,79.55 L364.18,79.44 L364.4,79.4 L364.6,79.43 L364.81,79.52 L365.01,79.66 L365.22,79.87 L365.42,80.14 L365.63,80.48 L365.83,80.88 L366.04,81.34 L366.24,81.89 L366.45,82.5 L366.65,83.2 L366.85,83.98 L367.06,84.85 L367.26,85.81 L367.47,86.86 L367.67,87.99 L367.88,89.2 L368.08,90.42 L368.29,91.61 L368.49,92.63 L368.7,93.34 L368.9,93.6 L369.1,93.4 L369.3,92.88 L369.5,92.19 L369.7,91.45 L369.9,90.74 L370.1,90.09 L370.3,89.51 L370.5,89 L370.7,88.55 L370.9,88.17 L371.1,87.85 L371.3,87.58 L371.5,87.37 L371.7,87.21 L371.9,87.09 L372.1,87.02 L372.3,87 L372.5,87.04 L372.71,87.14 L372.91,87.32 L373.12,87.57 L373.32,87.9 L373.53,88.31 L373.73,88.8 L373.94,89.37 L374.14,90.03 L374.35,90.79 L374.55,91.64 L374.76,92.6 L374.96,93.67 L375.17,94.85 L375.37,96.14 L375.58,97.51 L375.78,98.93 L375.99,100.32 L376.19,101.53 L376.4,102.39 L376.6,102.7 L376.81,102.52 L377.01,102.02 L377.22,101.32 L377.42,100.53 L377.62,99.74 L377.83,98.98 L378.04,98.27 L378.24,97.63 L378.44,97.06 L378.65,96.55 L378.86,96.1 L379.06,95.7 L379.26,95.36 L379.47,95.07 L379.68,94.83 L379.88,94.64 L380.08,94.49 L380.29,94.38 L380.5,94.32 L380.7,94.3 L380.9,94.34 L381.11,94.45 L381.31,94.64 L381.52,94.91 L381.72,95.26 L381.93,95.69 L382.13,96.21 L382.34,96.82 L382.54,97.52 L382.75,98.33 L382.95,99.24 L383.16,100.26 L383.36,101.39 L383.57,102.65 L383.77,104.02 L383.98,105.48 L384.18,106.99 L384.39,108.46 L384.59,109.76 L384.8,110.67 L385,111 L385.2,110.79 L385.4,110.21 L385.6,109.4 L385.8,108.49 L386,107.58 L386.2,106.7 L386.4,105.89 L386.6,105.15 L386.8,104.49 L387,103.89 L387.2,103.37 L387.4,102.92 L387.6,102.53 L387.8,102.19 L388,101.92 L388.2,101.69 L388.4,101.52 L388.6,101.4 L388.8,101.32 L389,101.3 L389.21,101.35 L389.42,101.48 L389.63,101.72 L389.84,102.04 L390.05,102.47 L390.26,102.99 L390.47,103.62 L390.68,104.36 L390.89,105.22 L391.1,106.19 L391.3,107.3 L391.51,108.54 L391.72,109.92 L391.93,111.45 L392.14,113.11 L392.35,114.89 L392.56,116.72 L392.77,118.52 L392.98,120.09 L393.19,121.2 L393.4,121.6 L393.61,121.26 L393.81,120.36 L394.02,119.11 L394.22,117.73 L394.43,116.36 L394.63,115.06 L394.84,113.87 L395.04,112.8 L395.25,111.85 L395.45,111.01 L395.66,110.28 L395.86,109.66 L396.07,109.12 L396.27,108.68 L396.48,108.32 L396.68,108.05 L396.89,107.85 L397.09,107.74 L397.3,107.7 L397.5,107.74 L397.7,107.85 L397.9,108.05 L398.1,108.32 L398.3,108.67 L398.5,109.11 L398.7,109.63 L398.9,110.24 L399.1,110.94 L399.3,111.74 L399.5,112.64 L399.7,113.64 L399.9,114.75 L400.1,115.98 L400.3,117.33 L400.5,118.8 L400.7,120.38 L400.9,122.07 L401.1,123.81 L401.3,125.56 L401.5,127.21 L401.7,128.61 L401.9,129.56 L402.1,129.9 L402.31,129.54 L402.51,128.57 L402.72,127.23 L402.92,125.75 L403.13,124.28 L403.33,122.89 L403.54,121.61 L403.74,120.47 L403.95,119.45 L404.15,118.55 L404.36,117.77 L404.56,117.1 L404.77,116.52 L404.97,116.05 L405.18,115.67 L405.38,115.37 L405.59,115.17 L405.79,115.04 L406,115 L406.2,115.05 L406.41,115.21 L406.61,115.48 L406.82,115.85 L407.02,116.34 L407.23,116.94 L407.43,117.67 L407.64,118.51 L407.84,119.5 L408.05,120.62 L408.25,121.89 L408.46,123.31 L408.66,124.9 L408.87,126.65 L409.07,128.56 L409.28,130.6 L409.48,132.7 L409.69,134.76 L409.89,136.57 L410.1,137.84 L410.3,138.3 L410.5,137.92 L410.71,136.88 L410.92,135.43 L411.12,133.81 L411.32,132.16 L411.53,130.59 L411.74,129.13 L411.94,127.8 L412.14,126.61 L412.35,125.55 L412.56,124.62 L412.76,123.81 L412.96,123.1 L413.17,122.5 L413.38,122 L413.58,121.6 L413.78,121.29 L413.99,121.07 L414.19,120.94 L414.4,120.9 L414.6,120.95 L414.81,121.11 L415.01,121.38 L415.22,121.76 L415.42,122.26 L415.63,122.87 L415.83,123.59 L416.03,124.45 L416.24,125.43 L416.44,126.55 L416.65,127.81 L416.85,129.22 L417.06,130.79 L417.26,132.53 L417.47,134.43 L417.67,136.49 L417.87,138.71 L418.08,141.02 L418.28,143.37 L418.49,145.6 L418.69,147.51 L418.9,148.83 L419.1,149.3 L419.3,148.81 L419.5,147.46 L419.7,145.58 L419.9,143.46 L420.1,141.32 L420.3,139.28 L420.5,137.39 L420.7,135.67 L420.9,134.12 L421.1,132.75 L421.3,131.53 L421.5,130.47 L421.7,129.56 L421.9,128.78 L422.1,128.13 L422.3,127.61 L422.5,127.21 L422.7,126.93 L422.9,126.76 L423.1,126.7 L423.31,126.76 L423.52,126.93 L423.73,127.22 L423.94,127.63 L424.15,128.15 L424.36,128.81 L424.57,129.59 L424.78,130.52 L424.99,131.58 L425.2,132.8 L425.4,134.18 L425.61,135.73 L425.82,137.45 L426.03,139.35 L426.24,141.42 L426.45,143.63 L426.66,145.92 L426.87,148.16 L427.08,150.12 L427.29,151.5 L427.5,152 L427.7,151.58 L427.91,150.42 L428.11,148.78 L428.32,146.91 L428.52,144.99 L428.73,143.14 L428.93,141.4 L429.14,139.81 L429.34,138.36 L429.55,137.07 L429.75,135.91 L429.96,134.89 L430.16,134 L430.37,133.22 L430.57,132.57 L430.78,132.02 L430.98,131.58 L431.19,131.23 L431.39,130.99 L431.6,130.85 L431.8,130.8 L432,130.85 L432.21,131.01 L432.41,131.26 L432.62,131.63 L432.82,132.1 L433.03,132.68 L433.23,133.38 L433.43,134.2 L433.64,135.14 L433.84,136.21 L434.05,137.42 L434.25,138.77 L434.46,140.28 L434.66,141.94 L434.87,143.76 L435.07,145.74 L435.27,147.85 L435.48,150.07 L435.68,152.32 L435.89,154.46 L436.09,156.29 L436.3,157.55 L436.5,158 L436.7,157.5 L436.91,156.13 L437.12,154.21 L437.32,152.06 L437.52,149.88 L437.73,147.8 L437.94,145.88 L438.14,144.13 L438.35,142.55 L438.55,141.15 L438.75,139.92 L438.96,138.84 L439.17,137.91 L439.37,137.12 L439.58,136.46 L439.78,135.93 L439.99,135.52 L440.19,135.23 L440.4,135.06 L440.6,135 L440.81,135.07 L441.02,135.27 L441.23,135.6 L441.44,136.08 L441.65,136.69 L441.86,137.46 L442.07,138.38 L442.28,139.46 L442.49,140.71 L442.7,142.14 L442.91,143.77 L443.12,145.59 L443.33,147.63 L443.54,149.86 L443.75,152.28 L443.96,154.8 L444.17,157.3 L444.38,159.53 L444.59,161.12 L444.8,161.7 L445,161.29 L445.2,160.16 L445.4,158.49 L445.6,156.52 L445.8,154.43 L446,152.35 L446.2,150.34 L446.4,148.45 L446.6,146.7 L446.8,145.09 L447,143.62 L447.2,142.29 L447.4,141.09 L447.6,140.02 L447.8,139.07 L448,138.23 L448.2,137.5 L448.4,136.88 L448.6,136.36 L448.8,135.94 L449,135.62 L449.2,135.38 L449.4,135.25 L449.6,135.2 L449.8,135.24 L450.01,135.38 L450.21,135.6 L450.42,135.91 L450.62,136.31 L450.82,136.81 L451.03,137.41 L451.23,138.1 L451.44,138.9 L451.64,139.81 L451.84,140.83 L452.05,141.97 L452.25,143.23 L452.46,144.62 L452.66,146.15 L452.86,147.81 L453.07,149.61 L453.27,151.54 L453.48,153.58 L453.68,155.67 L453.88,157.75 L454.09,159.69 L454.29,161.31 L454.5,162.41 L454.7,162.8 L454.9,162.41 L455.11,161.31 L455.31,159.73 L455.52,157.87 L455.72,155.92 L455.93,154 L456.13,152.16 L456.33,150.44 L456.54,148.86 L456.74,147.42 L456.95,146.12 L457.15,144.94 L457.36,143.89 L457.56,142.96 L457.77,142.15 L457.97,141.44 L458.17,140.83 L458.38,140.33 L458.58,139.92 L458.79,139.6 L458.99,139.38 L459.2,139.24 L459.4,139.2 L459.6,139.26 L459.8,139.44 L460,139.75 L460.2,140.18 L460.4,140.74 L460.6,141.43 L460.8,142.26 L461,143.23 L461.2,144.35 L461.4,145.62 L461.6,147.06 L461.8,148.68 L462,150.48 L462.2,152.47 L462.4,154.63 L462.6,156.97 L462.8,159.43 L463,161.96 L463.2,164.42 L463.4,166.55 L463.6,168.05 L463.8,168.61 L464,168.08 L464.21,166.64 L464.41,164.6 L464.62,162.26 L464.82,159.88 L465.03,157.57 L465.23,155.42 L465.44,153.44 L465.64,151.64 L465.85,150.02 L466.05,148.57 L466.26,147.29 L466.46,146.16 L466.67,145.18 L466.87,144.34 L467.08,143.63 L467.28,143.06 L467.49,142.64 L467.69,142.41 L467.9,142.3 L468.1,142.32 L468.3,142.44 L468.51,142.48 L468.71,142.58 L468.91,142.74 L469.12,142.97 L469.32,143.31 L469.53,143.74 L469.73,144.25 L469.93,144.84 L470.14,145.52 L470.34,146.37 L470.54,147.31 L470.75,148.35 L470.95,149.48 L471.16,150.62 L471.36,151.83 L471.56,153.14 L471.77,154.56 L471.97,156.04 L472.17,157.54 L472.38,159.1 L472.58,160.69 L472.79,162.22 L472.99,163.86 L473.19,165.25 L473.4,166.22 L473.6,166.65 L473.8,166.14 L474,164.6 L474.2,162.49 L474.4,160.13 L474.6,157.74 L474.8,155.82 L475,154.07 L475.2,152.5 L475.4,151.13 L475.6,149.82 L475.8,148.59 L476,147.51 L476.2,146.58 L476.4,145.81 L476.6,144.97 L476.8,144.26 L477,143.68 L477.2,143.21 L477.4,143.03 L477.6,143.14 L477.81,143.36 L478.02,143.63 L478.22,143.91 L478.43,143.72 L478.64,143.58 L478.85,143.49 L479.05,143.45 L479.26,143.99 L479.47,144.75 L479.68,145.58 L479.88,146.49 L480.09,147.27 L480.3,147.83 L480.51,148.48 L480.72,149.21 L480.92,150.08 L481.13,151.47 L481.34,152.96 L481.55,154.53 L481.75,156.18 L481.96,157.51 L482.17,158.72 L482.38,159.82 L482.58,160.7 L482.79,161.32 L483,161.6 L483.21,161.28 L483.41,160.38 L483.62,159.15 L483.82,158.05 L484.03,156.96 L484.23,155.94 L484.44,155.04 L484.64,153.88 L484.85,152.68 L485.05,151.59 L485.26,150.62 L485.46,149.79 L485.67,149.18 L485.87,148.65 L486.08,148.21 L486.28,147.86 L486.49,147.72 L486.69,147.68 L486.9,147.71 L487.1,147.8 L487.3,147.94 L487.5,148.11 L487.7,148.33 L487.9,148.59 L488.1,148.89 L488.3,149.22 L488.5,149.6 L488.7,150.02 L488.9,150.49 L489.1,150.89 L489.3,151.21 L489.5,151.59 L489.7,152.02 L489.9,152.51 L490.1,153.5 L490.3,154.54 L490.5,155.65 L490.7,156.81 L490.9,157.85 L491.1,158.75 L491.3,159.68 L491.5,160.62 L491.7,161.53 L491.9,162.46 L492.1,163.21 L492.3,163.72 L492.5,163.91 L492.7,163.59 L492.9,162.73 L493.1,161.56 L493.3,160.25 L493.5,158.92 L493.7,157.98 L493.9,157.13 L494.1,156.38 L494.3,155.73 L494.5,154.99 L494.7,154.15 L494.9,153.39 L495.1,152.73 L495.3,152.14 L495.5,151.5 L495.7,150.94 L495.9,150.44 L496.1,150.02 L496.3,149.95 L496.5,150.26 L496.7,150.61 L496.9,150.98 L497.1,151.38 L497.3,151.64 L497.5,151.92 L497.7,152.23 L497.9,152.57 L498.1,152.71 L498.3,152.66 L498.5,152.64 L498.7,152.65 L498.9,152.69 L499.1,153.3 L499.3,153.94 L499.5,154.62 L499.7,155.34 L499.9,155.81 L500.1,156.03 L500.3,156.29 L500.5,156.59 L500.7,156.92 L500.9,157.76 L501.1,158.6 L501.3,159.41 L501.5,160.17 L501.7,160.7 L501.9,160.94 L502.1,160.97 L502.31,160.68 L502.52,160.07 L502.73,159.32 L502.94,158.49 L503.15,157.64 L503.36,156.83 L503.57,156.26 L503.78,155.8 L503.99,155.4 L504.2,155.08 L504.41,154.62 L504.62,154.04 L504.83,153.52 L505.04,153.05 L505.25,152.74 L505.46,152.8 L505.67,152.91 L505.88,153.07 L506.09,153.28 L506.3,153.02 L506.5,152.78 L506.7,152.58 L506.9,152.41 L507.1,152.27 L507.3,152.14 L507.5,152.05 L507.7,152 L507.9,152 L508.1,152.5 L508.3,153.04 L508.5,153.63 L508.7,154.27 L508.9,155.02 L509.1,155.88 L509.3,156.8 L509.5,157.78 L509.7,158.81 L509.9,159.31 L510.1,159.83 L510.3,160.36 L510.5,160.84 L510.7,161.23 L510.9,161.43 L511.1,161.35 L511.3,160.96 L511.51,160.31 L511.71,159.82 L511.92,159.2 L512.12,158.54 L512.32,157.86 L512.53,157.06 L512.73,156.19 L512.94,155.38 L513.14,154.62 L513.34,154.07 L513.55,154.12 L513.75,154.21 L513.96,154.36 L514.16,154.55 L514.36,154.31 L514.57,153.98 L514.77,153.7 L514.98,153.45 L515.18,153.21 L515.38,152.94 L515.59,152.71 L515.79,152.52 L516,152.36 L516.2,152.22 L516.41,152.11 L516.61,152.03 L516.82,151.98 L517.03,152.11 L517.24,152.36 L517.44,152.65 L517.65,152.97 L517.86,153.19 L518.07,153.1 L518.27,153.04 L518.48,153.03 L518.69,153.05 L518.9,153.56 L519.1,154.14 L519.31,154.77 L519.52,155.45 L519.73,156.21 L519.93,157.06 L520.14,157.95 L520.35,158.89 L520.56,159.79 L520.76,160.51 L520.97,161.22 L521.18,161.85 L521.39,162.36 L521.59,162.57 L521.8,162.51 L522.2,157.34 L522.6,154.49 L523,153.64 L523.4,153.65 L523.8,153.44 L524.2,154.3 L524.6,157.03" fill="none" stroke="#ff0000" stroke-width="1.7" stroke-linejoin="round" stroke-linecap="round"/>
<text x="327.8" y="171.9" font-size="12" font-weight="bold">AlN/Si (100)</text>
<rect x="315.1" y="19" width="229.8" height="169.9" fill="none" stroke="#000" stroke-width="1.75"/>
<text transform="translate(307.5,113.5) rotate(-90)" font-size="14.9" text-anchor="middle">Intensity (a.u.)</text>
<text x="429.8" y="218.3" font-size="15" text-anchor="middle">θ (°)</text>
<rect x="433.6" y="18.9" width="111.2" height="81.5" fill="#fff" stroke="none"/>
<path d="M433.6,26h2M433.6,35.4h1.3M433.6,44.8h2M433.6,54.2h1.3M433.6,63.6h2M433.6,73h1.3M433.6,82.4h2M433.6,91.8h1.3" stroke="#000" stroke-width="0.9" fill="none"/>
<path d="M444.68,100.4v-2M466.83,100.4v-2M488.98,100.4v-2M511.13,100.4v-2M533.28,100.4v-2M455.75,100.4v-1.2M477.9,100.4v-1.2M500.05,100.4v-1.2M522.21,100.4v-1.2" stroke="#000" stroke-width="0.9" fill="none"/>
<text x="444.68" y="106.8" font-size="5.3" text-anchor="middle" font-weight="bold">0.21</text>
<text x="466.83" y="106.8" font-size="5.3" text-anchor="middle" font-weight="bold">0.22</text>
<text x="488.98" y="106.8" font-size="5.3" text-anchor="middle" font-weight="bold">0.23</text>
<text x="511.13" y="106.8" font-size="5.3" text-anchor="middle" font-weight="bold">0.24</text>
<text x="533.28" y="106.8" font-size="5.3" text-anchor="middle" font-weight="bold">0.25</text>
<text x="482.5" y="114.3" font-size="7.5" font-weight="bold" text-anchor="middle">θ (°)</text>
<text transform="translate(427.8,62.2) rotate(-90)" font-size="8.1" font-weight="bold" text-anchor="middle">d<tspan font-size="6" dy="-2.8">2</tspan><tspan dy="2.8">I/dθ</tspan><tspan font-size="6" dy="-2.8">2</tspan></text>
<path d="M488.4,18.9V100.4" stroke="#1010f5" stroke-width="1.1" stroke-dasharray="3.2,2.7,1,2.9" fill="none"/>
<path d="M433.6,54.9 L433.85,54.9 L434.1,54.9 L434.35,54.91 L434.6,54.91 L434.85,54.91 L435.1,54.91 L435.35,54.91 L435.61,54.92 L435.86,54.92 L436.11,54.92 L436.36,54.92 L436.61,54.92 L436.86,54.93 L437.11,54.93 L437.36,54.93 L437.61,54.93 L437.86,54.94 L438.11,54.94 L438.36,54.94 L438.61,54.94 L438.86,54.94 L439.11,54.95 L439.37,54.95 L439.62,54.95 L439.87,54.95 L440.12,54.96 L440.37,54.96 L440.62,54.96 L440.87,54.96 L441.12,54.96 L441.37,54.97 L441.62,54.97 L441.87,54.97 L442.12,54.97 L442.37,54.98 L442.62,54.98 L442.88,54.98 L443.13,54.98 L443.38,54.98 L443.63,54.99 L443.88,54.99 L444.13,54.99 L444.38,54.99 L444.63,55 L444.88,55 L445.13,55 L445.38,55 L445.63,55.01 L445.88,55.01 L446.13,55.01 L446.38,55.01 L446.64,55.01 L446.89,55.02 L447.14,55.02 L447.39,55.02 L447.64,55.02 L447.89,55.02 L448.14,55.02 L448.39,55.03 L448.64,55.03 L448.89,55.03 L449.14,55.03 L449.39,55.03 L449.64,55.04 L449.89,55.04 L450.14,55.04 L450.4,55.04 L450.65,55.04 L450.9,55.05 L451.15,55.05 L451.4,55.05 L451.65,55.05 L451.9,55.06 L452.15,55.06 L452.4,55.06 L452.65,55.06 L452.9,55.07 L453.15,55.07 L453.4,55.07 L453.65,55.08 L453.9,55.08 L454.16,55.09 L454.41,55.09 L454.66,55.09 L454.91,55.1 L455.16,55.1 L455.41,55.11 L455.66,55.12 L455.91,55.13 L456.16,55.14 L456.41,55.15 L456.66,55.16 L456.91,55.18 L457.16,55.19 L457.41,55.21 L457.67,55.23 L457.92,55.25 L458.17,55.27 L458.42,55.3 L458.67,55.32 L458.92,55.35 L459.17,55.37 L459.42,55.4 L459.67,55.43 L459.92,55.46 L460.17,55.49 L460.42,55.52 L460.67,55.55 L460.92,55.59 L461.17,55.63 L461.43,55.67 L461.68,55.73 L461.93,55.79 L462.18,55.86 L462.43,55.94 L462.68,56.03 L462.93,56.12 L463.18,56.22 L463.43,56.32 L463.68,56.43 L463.93,56.54 L464.18,56.66 L464.43,56.78 L464.68,56.91 L464.93,57.03 L465.19,57.16 L465.44,57.3 L465.69,57.43 L465.94,57.57 L466.19,57.7 L466.44,57.85 L466.69,58.01 L466.94,58.18 L467.19,58.36 L467.44,58.54 L467.69,58.74 L467.94,58.94 L468.19,59.15 L468.44,59.36 L468.7,59.58 L468.95,59.81 L469.2,60.04 L469.45,60.28 L469.7,60.51 L469.95,60.76 L470.2,61 L470.45,61.25 L470.7,61.5 L470.95,61.76 L471.2,62.04 L471.45,62.32 L471.7,62.61 L471.95,62.9 L472.2,63.21 L472.46,63.52 L472.71,63.84 L472.96,64.16 L473.21,64.49 L473.46,64.83 L473.71,65.17 L473.96,65.51 L474.21,65.86 L474.46,66.21 L474.71,66.56 L474.96,66.91 L475.21,67.26 L475.46,67.62 L475.71,67.98 L475.96,68.34 L476.22,68.72 L476.47,69.1 L476.72,69.49 L476.97,69.9 L477.22,70.32 L477.47,70.75 L477.72,71.2 L477.97,71.66 L478.22,72.14 L478.47,72.65 L478.72,73.21 L478.97,73.81 L479.22,74.44 L479.47,75.09 L479.72,75.76 L479.98,76.43 L480.23,77.11 L480.48,77.81 L480.73,78.52 L480.98,79.25 L481.23,79.99 L481.48,80.75 L481.73,81.52 L481.98,82.31 L482.23,83.1 L482.48,83.95 L482.73,84.86 L482.98,85.79 L483.23,86.69 L483.49,87.55 L483.74,88.32 L483.99,89 L484.24,89.65 L484.49,90.27 L484.74,90.85 L484.99,91.39 L485.24,91.87 L485.49,92.29 L485.74,92.68 L485.99,93.07 L486.24,93.46 L486.49,93.82 L486.74,94.14 L486.99,94.41 L487.25,94.59 L487.5,94.69 L487.75,94.7 L488,94.67 L488.25,94.62 L488.5,94.56 L488.75,94.48 L489,94.39 L489.25,94.3 L489.5,94.2 L489.75,94.09 L490,93.96 L490.25,93.8 L490.5,93.62 L490.75,93.42 L491.01,93.2 L491.26,92.95 L491.51,92.68 L491.76,92.31 L492.01,91.87 L492.26,91.37 L492.51,90.82 L492.76,90.24 L493.01,89.66 L493.26,89.09 L493.51,88.52 L493.76,87.94 L494.01,87.35 L494.26,86.73 L494.51,86.1 L494.77,85.46 L495.02,84.79 L495.27,84.12 L495.52,83.43 L495.77,82.74 L496.02,82.04 L496.27,81.33 L496.52,80.6 L496.77,79.87 L497.02,79.12 L497.27,78.35 L497.52,77.57 L497.77,76.77 L498.02,75.94 L498.28,75.1 L498.53,74.24 L498.78,73.35 L499.03,72.43 L499.28,71.46 L499.53,70.45 L499.78,69.4 L500.03,68.31 L500.28,67.19 L500.53,66.05 L500.78,64.88 L501.03,63.71 L501.28,62.52 L501.53,61.33 L501.78,60.14 L502.04,58.96 L502.29,57.79 L502.54,56.64 L502.79,55.51 L503.04,54.36 L503.29,53.2 L503.54,52.03 L503.79,50.84 L504.04,49.65 L504.29,48.47 L504.54,47.29 L504.79,46.12 L505.04,44.96 L505.29,43.83 L505.54,42.72 L505.8,41.64 L506.05,40.59 L506.3,39.58 L506.55,38.62 L506.8,37.68 L507.05,36.75 L507.3,35.84 L507.55,34.95 L507.8,34.09 L508.05,33.26 L508.3,32.47 L508.55,31.72 L508.8,31.02 L509.05,30.36 L509.3,29.72 L509.56,29.1 L509.81,28.52 L510.06,28 L510.31,27.57 L510.56,27.23 L510.81,26.93 L511.06,26.64 L511.31,26.37 L511.56,26.12 L511.81,25.92 L512.06,25.75 L512.31,25.65 L512.56,25.6 L512.81,25.63 L513.07,25.74 L513.32,25.91 L513.57,26.11 L513.82,26.34 L514.07,26.56 L514.32,26.82 L514.57,27.13 L514.82,27.48 L515.07,27.87 L515.32,28.27 L515.57,28.69 L515.82,29.11 L516.07,29.52 L516.32,29.95 L516.57,30.4 L516.83,30.87 L517.08,31.35 L517.33,31.84 L517.58,32.35 L517.83,32.86 L518.08,33.38 L518.33,33.91 L518.58,34.44 L518.83,34.98 L519.08,35.51 L519.33,36.04 L519.58,36.57 L519.83,37.08 L520.08,37.59 L520.33,38.09 L520.59,38.58 L520.84,39.06 L521.09,39.53 L521.34,40.01 L521.59,40.48 L521.84,40.95 L522.09,41.42 L522.34,41.89 L522.59,42.35 L522.84,42.81 L523.09,43.27 L523.34,43.73 L523.59,44.18 L523.84,44.62 L524.1,45.06 L524.35,45.49 L524.6,45.92 L524.85,46.34 L525.1,46.75 L525.35,47.16 L525.6,47.56 L525.85,47.97 L526.1,48.39 L526.35,48.81 L526.6,49.2 L526.85,49.57 L527.1,49.9 L527.35,50.17 L527.6,50.38 L527.86,50.59 L528.11,50.78 L528.36,50.94 L528.61,51.05 L528.86,51.1 L529.11,51.08 L529.36,51.02 L529.61,50.92 L529.86,50.79 L530.11,50.64 L530.36,50.49 L530.61,50.32 L530.86,50.12 L531.11,49.87 L531.36,49.59 L531.62,49.27 L531.87,48.94 L532.12,48.6 L532.37,48.25 L532.62,47.9 L532.87,47.57 L533.12,47.25 L533.37,46.93 L533.62,46.61 L533.87,46.29 L534.12,45.96 L534.37,45.63 L534.62,45.3 L534.87,44.97 L535.12,44.63 L535.38,44.3 L535.63,43.96 L535.88,43.62 L536.13,43.28 L536.38,42.94 L536.63,42.6 L536.88,42.26 L537.13,41.92 L537.38,41.58 L537.63,41.24 L537.88,40.9 L538.13,40.56 L538.38,40.22 L538.63,39.89 L538.89,39.55 L539.14,39.22 L539.39,38.88 L539.64,38.55 L539.89,38.22 L540.14,37.88 L540.39,37.55 L540.64,37.21 L540.89,36.88 L541.14,36.55 L541.39,36.21 L541.64,35.88 L541.89,35.54 L542.14,35.21 L542.39,34.87 L542.65,34.54 L542.9,34.21 L543.15,33.87 L543.4,33.54 L543.65,33.2 L543.9,32.87 L544.15,32.53 L544.4,32.2" fill="none" stroke="#1010f5" stroke-width="1.4" stroke-linejoin="round" stroke-linecap="round"/>
<text x="444.6" y="42.8" font-size="9.4" font-weight="bold" fill="#1010f5" letter-spacing="-0.15">θ<tspan font-size="6.2" dy="2">c</tspan><tspan dy="-2">=0.230°</tspan></text>
<rect x="433.6" y="18.9" width="111.2" height="81.5" fill="none" stroke="#000" stroke-width="1.2"/>
<text x="37.0" y="231.6" font-size="12" font-weight="bold">(c)</text>
<path d="M32,238.1h3.2M32,259.5h3.2M32,253.06h1.8M32,249.29h1.8M32,246.62h1.8M32,244.54h1.8M32,242.85h1.8M32,241.41h1.8M32,240.17h1.8M32,280.9h3.2M32,274.46h1.8M32,270.69h1.8M32,268.02h1.8M32,265.94h1.8M32,264.25h1.8M32,262.81h1.8M32,261.57h1.8M32,260.48h1.8M32,302.3h3.2M32,295.86h1.8M32,292.09h1.8M32,289.42h1.8M32,287.34h1.8M32,285.65h1.8M32,284.21h1.8M32,282.97h1.8M32,281.88h1.8M32,323.7h3.2M32,317.26h1.8M32,313.49h1.8M32,310.82h1.8M32,308.74h1.8M32,307.05h1.8M32,305.61h1.8M32,304.37h1.8M32,303.28h1.8M32,345.1h3.2M32,338.66h1.8M32,334.89h1.8M32,332.22h1.8M32,330.14h1.8M32,328.45h1.8M32,327.01h1.8M32,325.77h1.8M32,324.68h1.8M32,366.5h3.2M32,360.06h1.8M32,356.29h1.8M32,353.62h1.8M32,351.54h1.8M32,349.85h1.8M32,348.41h1.8M32,347.17h1.8M32,346.08h1.8M32,387.9h3.2M32,381.46h1.8M32,377.69h1.8M32,375.02h1.8M32,372.94h1.8M32,371.25h1.8M32,369.81h1.8M32,368.57h1.8M32,367.48h1.8M32,402.86h1.8M32,399.09h1.8M32,396.42h1.8M32,394.34h1.8M32,392.65h1.8M32,391.21h1.8M32,389.97h1.8M32,388.88h1.8" stroke="#000" stroke-width="1.0" fill="none"/>
<path d="M50.4,408.7v-3.2M87.2,408.7v-3.2M124,408.7v-3.2M160.8,408.7v-3.2M197.6,408.7v-3.2M234.4,408.7v-3.2M68.8,408.7v-1.8M105.6,408.7v-1.8M142.4,408.7v-1.8M179.2,408.7v-1.8M216,408.7v-1.8M252.8,408.7v-1.8" stroke="#000" stroke-width="1.1" fill="none"/>
<text x="50.4" y="421.6" font-size="11.4" text-anchor="middle">0.2</text>
<text x="87.2" y="421.6" font-size="11.4" text-anchor="middle">0.4</text>
<text x="124" y="421.6" font-size="11.4" text-anchor="middle">0.6</text>
<text x="160.8" y="421.6" font-size="11.4" text-anchor="middle">0.8</text>
<text x="197.6" y="421.6" font-size="11.4" text-anchor="middle">1.0</text>
<text x="234.4" y="421.6" font-size="11.4" text-anchor="middle">1.2</text>
<path d="M50.5,262.1 L50.76,262.06 L51.01,262.03 L51.27,261.99 L51.53,261.96 L51.79,261.93 L52.04,261.9 L52.3,261.87 L52.56,261.84 L52.81,261.82 L53.07,261.79 L53.33,261.77 L53.59,261.75 L53.84,261.72 L54.1,261.7 L54.36,261.68 L54.61,261.66 L54.87,261.64 L55.13,261.63 L55.39,261.61 L55.64,261.6 L55.9,261.6 L56.16,261.63 L56.41,261.8 L56.67,262.09 L56.93,262.48 L57.19,262.93 L57.44,263.41 L57.7,263.91 L57.96,264.61 L58.21,265.5 L58.47,266.54 L58.73,267.65 L58.99,268.78 L59.24,269.87 L59.5,270.87 L59.76,271.71 L60.01,272.33 L60.27,272.73 L60.53,273.06 L60.79,273.47 L61.04,274.03 L61.3,274.67 L61.56,275.42 L61.81,276.26 L62.07,277.18 L62.33,278.2 L62.59,279.31 L62.84,280.51 L63.1,281.8 L63.31,281.71 L63.52,281.5 L63.73,281.26 L63.94,281.05 L64.15,280.87 L64.36,280.74 L64.57,280.63 L64.78,280.56 L64.99,280.51 L65.2,280.5 L65.41,280.53 L65.62,280.64 L65.83,280.82 L66.04,281.07 L66.26,281.39 L66.47,281.79 L66.68,282.27 L66.89,282.84 L67.1,283.5 L67.31,284.24 L67.52,285.08 L67.73,286.01 L67.94,287.02 L68.16,288.07 L68.37,289.1 L68.58,290.01 L68.79,290.66 L69,290.9 L69.2,290.74 L69.4,290.37 L69.6,289.95 L69.8,289.57 L70,289.26 L70.2,289.02 L70.4,288.83 L70.6,288.7 L70.8,288.63 L71,288.6 L71.2,288.62 L71.4,288.67 L71.6,288.76 L71.8,288.89 L72,289.06 L72.2,289.26 L72.4,289.51 L72.6,289.79 L72.8,290.12 L73,290.48 L73.2,290.9 L73.4,291.35 L73.6,291.86 L73.8,292.41 L74,293.01 L74.2,293.65 L74.4,294.35 L74.6,295.08 L74.8,295.85 L75,296.64 L75.2,297.43 L75.4,298.19 L75.6,298.87 L75.8,299.42 L76,299.77 L76.2,299.9 L76.41,299.77 L76.62,299.43 L76.82,299.01 L77.03,298.58 L77.24,298.19 L77.45,297.84 L77.65,297.56 L77.86,297.32 L78.07,297.13 L78.28,296.98 L78.48,296.88 L78.69,296.82 L78.9,296.8 L79.1,296.83 L79.31,296.9 L79.51,297.03 L79.72,297.22 L79.92,297.46 L80.13,297.75 L80.33,298.1 L80.53,298.51 L80.74,298.98 L80.94,299.51 L81.15,300.11 L81.35,300.77 L81.56,301.5 L81.76,302.31 L81.97,303.17 L82.17,304.1 L82.37,305.08 L82.58,306.08 L82.78,307.06 L82.99,307.97 L83.19,308.72 L83.4,309.22 L83.6,309.4 L83.81,309.29 L84.01,309 L84.22,308.59 L84.42,308.12 L84.63,307.64 L84.83,307.19 L85.04,306.77 L85.24,306.39 L85.45,306.05 L85.66,305.76 L85.86,305.5 L86.07,305.28 L86.27,305.1 L86.48,304.96 L86.68,304.84 L86.89,304.76 L87.09,304.72 L87.3,304.7 L87.5,304.72 L87.7,304.8 L87.9,304.92 L88.1,305.1 L88.3,305.32 L88.5,305.6 L88.7,305.94 L88.9,306.32 L89.1,306.77 L89.3,307.27 L89.5,307.83 L89.7,308.46 L89.9,309.14 L90.1,309.9 L90.3,310.72 L90.5,311.6 L90.7,312.55 L90.9,313.54 L91.1,314.57 L91.3,315.6 L91.5,316.6 L91.7,317.51 L91.9,318.25 L92.1,318.73 L92.3,318.9 L92.5,318.77 L92.7,318.4 L92.9,317.87 L93.1,317.25 L93.3,316.61 L93.5,315.97 L93.7,315.37 L93.9,314.81 L94.1,314.3 L94.3,313.85 L94.5,313.44 L94.7,313.08 L94.9,312.77 L95.1,312.51 L95.3,312.29 L95.5,312.11 L95.7,311.97 L95.9,311.88 L96.1,311.82 L96.3,311.8 L96.5,311.83 L96.7,311.9 L96.9,312.03 L97.1,312.21 L97.3,312.45 L97.5,312.74 L97.7,313.08 L97.9,313.48 L98.1,313.94 L98.3,314.46 L98.5,315.04 L98.7,315.69 L98.9,316.4 L99.1,317.18 L99.3,318.03 L99.5,318.95 L99.7,319.92 L99.9,320.95 L100.1,322.02 L100.3,323.09 L100.5,324.12 L100.7,325.06 L100.9,325.82 L101.1,326.32 L101.3,326.5 L101.5,326.39 L101.71,326.07 L101.91,325.6 L102.12,325.04 L102.32,324.44 L102.53,323.84 L102.73,323.26 L102.94,322.71 L103.14,322.2 L103.35,321.73 L103.55,321.3 L103.75,320.92 L103.96,320.58 L104.16,320.28 L104.37,320.02 L104.57,319.8 L104.78,319.62 L104.98,319.46 L105.19,319.35 L105.39,319.27 L105.6,319.22 L105.8,319.2 L106.01,319.23 L106.21,319.31 L106.42,319.44 L106.63,319.62 L106.84,319.87 L107.04,320.16 L107.25,320.51 L107.46,320.92 L107.66,321.39 L107.87,321.92 L108.08,322.51 L108.29,323.17 L108.49,323.89 L108.7,324.68 L108.91,325.53 L109.11,326.46 L109.32,327.46 L109.53,328.52 L109.74,329.65 L109.94,330.84 L110.15,332.06 L110.36,333.3 L110.56,334.52 L110.77,335.67 L110.98,336.69 L111.19,337.49 L111.39,338.02 L111.6,338.2 L111.8,338.04 L112.01,337.57 L112.21,336.87 L112.42,336.03 L112.62,335.12 L112.83,334.19 L113.03,333.28 L113.23,332.42 L113.44,331.61 L113.64,330.87 L113.85,330.19 L114.05,329.57 L114.26,329.02 L114.46,328.52 L114.67,328.09 L114.87,327.71 L115.07,327.38 L115.28,327.11 L115.48,326.89 L115.69,326.72 L115.89,326.6 L116.1,326.52 L116.3,326.5 L116.5,326.54 L116.7,326.64 L116.9,326.82 L117.1,327.08 L117.3,327.4 L117.5,327.8 L117.7,328.28 L117.9,328.84 L118.1,329.48 L118.3,330.21 L118.5,331.02 L118.7,331.92 L118.9,332.92 L119.1,334.01 L119.3,335.19 L119.5,336.46 L119.7,337.83 L119.9,339.26 L120.1,340.75 L120.3,342.24 L120.5,343.69 L120.7,344.99 L120.9,346.06 L121.1,346.75 L121.3,347 L121.51,346.8 L121.72,346.23 L121.93,345.39 L122.13,344.36 L122.34,343.26 L122.55,342.13 L122.76,341.03 L122.97,339.98 L123.18,339.01 L123.39,338.1 L123.6,337.28 L123.8,336.53 L124.01,335.85 L124.22,335.25 L124.43,334.72 L124.64,334.26 L124.85,333.87 L125.06,333.54 L125.27,333.27 L125.47,333.06 L125.68,332.92 L125.89,332.83 L126.1,332.8 L126.3,332.84 L126.5,332.94 L126.7,333.12 L126.9,333.37 L127.1,333.7 L127.3,334.1 L127.5,334.58 L127.7,335.13 L127.9,335.77 L128.1,336.49 L128.3,337.29 L128.5,338.18 L128.7,339.17 L128.9,340.25 L129.1,341.42 L129.3,342.68 L129.5,344.04 L129.7,345.48 L129.9,346.99 L130.1,348.53 L130.3,350.08 L130.5,351.56 L130.7,352.89 L130.9,353.95 L131.1,354.66 L131.3,354.9 L131.5,354.68 L131.71,354.05 L131.91,353.11 L132.12,351.97 L132.32,350.73 L132.53,349.48 L132.73,348.26 L132.93,347.09 L133.14,346 L133.34,345 L133.55,344.08 L133.75,343.25 L133.96,342.5 L134.16,341.83 L134.37,341.24 L134.57,340.73 L134.77,340.29 L134.98,339.92 L135.18,339.62 L135.39,339.39 L135.59,339.23 L135.8,339.13 L136,339.1 L136.2,339.14 L136.4,339.25 L136.6,339.44 L136.8,339.71 L137,340.05 L137.2,340.47 L137.4,340.98 L137.6,341.57 L137.8,342.24 L138,343.01 L138.2,343.86 L138.4,344.81 L138.6,345.86 L138.8,347.01 L139,348.26 L139.2,349.6 L139.4,351.03 L139.6,352.55 L139.8,354.11 L140,355.69 L140.2,357.21 L140.4,358.59 L140.6,359.7 L140.8,360.44 L141,360.7 L141.2,360.48 L141.4,359.86 L141.6,358.92 L141.8,357.78 L142,356.52 L142.2,355.24 L142.4,353.97 L142.6,352.76 L142.8,351.61 L143,350.55 L143.2,349.57 L143.4,348.67 L143.6,347.86 L143.8,347.13 L144,346.47 L144.2,345.9 L144.4,345.4 L144.6,344.97 L144.8,344.61 L145,344.31 L145.2,344.09 L145.4,343.93 L145.6,343.83 L145.8,343.8 L146.01,343.84 L146.22,343.95 L146.42,344.14 L146.63,344.4 L146.84,344.74 L147.05,345.16 L147.26,345.66 L147.46,346.25 L147.67,346.91 L147.88,347.67 L148.09,348.52 L148.3,349.46 L148.5,350.5 L148.71,351.63 L148.92,352.87 L149.13,354.2 L149.34,355.62 L149.54,357.12 L149.75,358.67 L149.96,360.23 L150.17,361.74 L150.38,363.11 L150.58,364.21 L150.79,364.94 L151,365.2 L151.2,364.98 L151.41,364.37 L151.61,363.45 L151.82,362.33 L152.02,361.1 L152.22,359.83 L152.43,358.59 L152.63,357.4 L152.84,356.27 L153.04,355.23 L153.25,354.26 L153.45,353.38 L153.65,352.59 L153.86,351.87 L154.06,351.23 L154.27,350.66 L154.47,350.17 L154.68,349.75 L154.88,349.39 L155.08,349.11 L155.29,348.88 L155.49,348.73 L155.7,348.63 L155.9,348.6 L156.1,348.64 L156.31,348.75 L156.51,348.94 L156.72,349.21 L156.92,349.55 L157.12,349.97 L157.33,350.48 L157.53,351.07 L157.74,351.74 L157.94,352.51 L158.14,353.36 L158.35,354.31 L158.55,355.36 L158.76,356.51 L158.96,357.76 L159.16,359.1 L159.37,360.53 L159.57,362.05 L159.78,363.61 L159.98,365.19 L160.18,366.71 L160.39,368.09 L160.59,369.2 L160.8,369.94 L161,370.2 L161.2,369.98 L161.4,369.34 L161.6,368.38 L161.8,367.21 L162,365.92 L162.2,364.61 L162.4,363.31 L162.6,362.07 L162.8,360.9 L163,359.81 L163.2,358.8 L163.4,357.89 L163.6,357.05 L163.8,356.31 L164,355.64 L164.2,355.05 L164.4,354.54 L164.6,354.1 L164.8,353.73 L165,353.43 L165.2,353.2 L165.4,353.03 L165.6,352.93 L165.8,352.9 L166,352.93 L166.21,353.01 L166.41,353.15 L166.61,353.34 L166.82,353.59 L167.02,353.9 L167.23,354.27 L167.43,354.7 L167.63,355.19 L167.84,355.74 L168.04,356.36 L168.24,357.04 L168.45,357.8 L168.65,358.62 L168.86,359.52 L169.06,360.5 L169.26,361.54 L169.47,362.65 L169.67,363.82 L169.87,365.04 L170.08,366.29 L170.28,367.52 L170.49,368.69 L170.69,369.73 L170.89,370.57 L171.1,371.11 L171.3,371.3 L171.5,371.09 L171.71,370.5 L171.91,369.62 L172.12,368.55 L172.32,367.4 L172.53,366.22 L172.73,365.08 L172.93,363.99 L173.14,362.97 L173.34,362.03 L173.55,361.17 L173.75,360.38 L173.96,359.68 L174.16,359.06 L174.37,358.51 L174.57,358.03 L174.77,357.61 L174.98,357.27 L175.18,356.99 L175.39,356.78 L175.59,356.62 L175.8,356.53 L176,356.5 L176.2,356.52 L176.41,356.6 L176.61,356.72 L176.81,356.89 L177.02,357.11 L177.22,357.38 L177.43,357.7 L177.63,358.07 L177.83,358.5 L178.04,358.98 L178.24,359.52 L178.44,360.13 L178.65,360.79 L178.85,361.51 L179.06,362.3 L179.26,363.15 L179.46,364.06 L179.67,365.03 L179.87,366.06 L180.07,367.12 L180.28,368.21 L180.48,369.29 L180.69,370.32 L180.89,371.23 L181.09,371.96 L181.3,372.43 L181.5,372.6 L181.7,372.45 L181.91,372.02 L182.11,371.37 L182.31,370.54 L182.52,369.62 L182.72,368.65 L182.93,367.67 L183.13,366.71 L183.33,365.78 L183.54,364.91 L183.74,364.09 L183.94,363.32 L184.15,362.61 L184.35,361.96 L184.56,361.36 L184.76,360.82 L184.96,360.34 L185.17,359.9 L185.37,359.52 L185.57,359.18 L185.78,358.89 L185.98,358.65 L186.19,358.45 L186.39,358.3 L186.59,358.19 L186.8,358.12 L187,358.1 L187.2,358.12 L187.41,358.19 L187.61,358.31 L187.82,358.47 L188.02,358.68 L188.22,358.93 L188.43,359.24 L188.63,359.6 L188.83,360.01 L189.04,360.47 L189.24,360.99 L189.45,361.56 L189.65,362.19 L189.85,362.88 L190.06,363.64 L190.26,364.45 L190.47,365.32 L190.67,366.25 L190.87,367.21 L191.08,368.21 L191.28,369.2 L191.48,370.15 L191.69,371.01 L191.89,371.69 L192.1,372.14 L192.3,372.3 L192.5,372.14 L192.71,371.67 L192.91,370.98 L193.12,370.15 L193.32,369.24 L193.53,368.32 L193.73,367.42 L193.93,366.57 L194.14,365.77 L194.34,365.03 L194.55,364.36 L194.75,363.74 L194.96,363.19 L195.16,362.71 L195.37,362.28 L195.57,361.91 L195.77,361.6 L195.98,361.33 L196.18,361.1 L196.39,360.91 L196.59,360.77 L196.8,360.66 L197,360.65 L197.2,360.68 L197.4,360.75 L197.6,360.85 L197.8,361 L198,361.2 L198.2,361.44 L198.4,361.72 L198.6,362.05 L198.8,362.37 L199,362.72 L199.2,363.12 L199.4,363.56 L199.6,363.98 L199.8,364.37 L200,364.79 L200.2,365.25 L200.4,365.74 L200.6,366.44 L200.8,367.18 L201,367.96 L201.2,368.78 L201.4,369.59 L201.6,370.38 L201.8,371.15 L202,371.87 L202.2,372.49 L202.4,373.11 L202.6,373.55 L202.8,373.76 L203,373.76 L203.2,373.46 L203.4,372.88 L203.6,372.18 L203.8,371.42 L204,370.64 L204.2,370.13 L204.4,369.64 L204.6,369.19 L204.8,368.79 L205,368.39 L205.2,367.99 L205.4,367.63 L205.6,367.32 L205.8,367.05 L206,366.6 L206.2,366.18 L206.4,365.79 L206.6,365.43 L206.8,365.25 L207,365.28 L207.2,365.34 L207.4,365.44 L207.6,365.57 L207.8,365.52 L208.01,365.5 L208.22,365.5 L208.43,365.53 L208.63,365.42 L208.84,365.24 L209.05,365.09 L209.26,364.95 L209.47,365.03 L209.68,365.54 L209.89,366.09 L210.1,366.68 L210.3,367.29 L210.51,367.49 L210.72,367.71 L210.93,367.97 L211.14,368.26 L211.35,368.76 L211.56,369.34 L211.77,369.91 L211.97,370.44 L212.18,370.83 L212.39,371.01 L212.6,371.02 L212.8,370.9 L213.01,370.7 L213.21,370.7 L213.41,370.65 L213.62,370.57 L213.82,370.46 L214.03,370.13 L214.23,369.67 L214.43,369.21 L214.64,368.77 L214.84,368.34 L215.04,367.92 L215.25,367.52 L215.45,367.14 L215.65,366.77 L215.86,366.7 L216.06,366.74 L216.26,366.79 L216.47,366.86 L216.67,366.91 L216.88,366.93 L217.08,366.97 L217.28,367.01 L217.49,367.08 L217.69,366.8 L217.89,366.5 L218.1,366.23 L218.3,365.96 L218.5,365.82 L218.71,365.81 L218.91,365.81 L219.11,365.83 L219.32,365.89 L219.52,366.08 L219.72,366.3 L219.93,366.54 L220.13,366.81 L220.33,367.22 L220.54,367.74 L220.74,368.27 L220.94,368.83 L221.15,369.35 L221.35,369.69 L221.55,370.04 L221.75,370.43 L221.96,370.84 L222.16,371.13 L222.36,371.4 L222.57,371.7 L222.77,372.01 L222.97,372.45 L223.18,373.08 L223.38,373.71 L223.58,374.33 L223.79,374.9 L223.99,375.27 L224.19,375.54 L224.4,375.71 L224.6,375.75 L224.94,374.55 L225.28,373.29 L225.62,372.08 L225.96,371.1 L226.29,370.2 L226.63,369.71 L226.97,369.81 L227.31,370.05 L227.65,370.01 L227.99,369.93 L228.33,369.89 L228.67,369.81 L229,369.75 L229.34,369.75 L229.68,369.8 L230.02,369.88 L230.36,370.19 L230.7,370.59 L231.04,370.99 L231.38,371.31 L231.71,371.63 L232.05,371.9 L232.39,372.2 L232.73,372.63 L233.07,373.33 L233.41,374.11 L233.75,374.94 L234.09,375.87 L234.43,376.74 L234.76,377.62 L235.1,378.48 L235.44,379.17 L235.78,379.16 L236.12,378.7 L236.46,377.85 L236.8,376.69 L237.14,375.38 L237.47,374.16 L237.81,373.16 L238.15,372.35 L238.49,372.01 L238.83,371.91 L239.17,371.75 L239.51,371.32 L239.85,370.93 L240.19,370.72 L240.52,370.69 L240.86,370.83 L241.2,371.45 L241.54,372.28 L241.88,373.06 L242.22,373.39 L242.56,373.74 L242.9,374.46 L243.23,375.41 L243.57,376.2 L243.91,376.36 L244.25,376.37 L244.59,376.49 L244.93,376.9 L245.27,377.3 L245.61,377.53 L245.94,377.63 L246.28,377.72 L246.62,377.71 L246.96,377.69 L247.3,377.66" fill="none" stroke="#ff0000" stroke-width="1.7" stroke-linejoin="round" stroke-linecap="round"/>
<text x="46.2" y="388.1" font-size="11.75" font-weight="bold">AlN/Si (111)</text>
<rect x="32" y="238.5" width="230" height="170.2" fill="none" stroke="#000" stroke-width="1.75"/>
<text transform="translate(23,330.4) rotate(-90)" font-size="14.9" text-anchor="middle">Intensity (a.u.)</text>
<text x="146.7" y="438.2" font-size="15" text-anchor="middle">θ (°)</text>
<rect x="150.2" y="238.7" width="111.5" height="81.3" fill="#fff" stroke="none"/>
<path d="M150.2,247h2M150.2,256.4h1.3M150.2,265.8h2M150.2,275.2h1.3M150.2,284.6h2M150.2,294h1.3M150.2,303.4h2M150.2,312.8h1.3" stroke="#000" stroke-width="0.9" fill="none"/>
<path d="M166.04,320v-2M185.85,320v-2M205.65,320v-2M225.46,320v-2M245.26,320v-2M156.14,320v-1.2M175.95,320v-1.2M195.75,320v-1.2M215.56,320v-1.2M235.36,320v-1.2M255.16,320v-1.2" stroke="#000" stroke-width="0.9" fill="none"/>
<text x="166.04" y="326.4" font-size="5.3" text-anchor="middle" font-weight="bold">0.22</text>
<text x="185.85" y="326.4" font-size="5.3" text-anchor="middle" font-weight="bold">0.23</text>
<text x="205.65" y="326.4" font-size="5.3" text-anchor="middle" font-weight="bold">0.24</text>
<text x="225.46" y="326.4" font-size="5.3" text-anchor="middle" font-weight="bold">0.25</text>
<text x="245.26" y="326.4" font-size="5.3" text-anchor="middle" font-weight="bold">0.26</text>
<text x="199.25" y="333.9" font-size="7.5" font-weight="bold" text-anchor="middle">θ (°)</text>
<text transform="translate(144.6,281.5) rotate(-90)" font-size="8.1" font-weight="bold" text-anchor="middle">d<tspan font-size="6" dy="-2.8">2</tspan><tspan dy="2.8">I/dθ</tspan><tspan font-size="6" dy="-2.8">2</tspan></text>
<path d="M203,238.7V320" stroke="#1010f5" stroke-width="1.1" stroke-dasharray="3.2,2.7,1,2.9" fill="none"/>
<path d="M150.3,281.5 L150.55,281.5 L150.8,281.5 L151.05,281.5 L151.3,281.5 L151.55,281.5 L151.81,281.5 L152.06,281.5 L152.31,281.5 L152.56,281.5 L152.81,281.5 L153.06,281.5 L153.31,281.5 L153.56,281.5 L153.81,281.5 L154.06,281.5 L154.31,281.5 L154.57,281.5 L154.82,281.5 L155.07,281.5 L155.32,281.5 L155.57,281.5 L155.82,281.5 L156.07,281.5 L156.32,281.5 L156.57,281.5 L156.82,281.5 L157.07,281.5 L157.33,281.5 L157.58,281.5 L157.83,281.5 L158.08,281.5 L158.33,281.5 L158.58,281.5 L158.83,281.5 L159.08,281.5 L159.33,281.5 L159.58,281.5 L159.83,281.5 L160.09,281.5 L160.34,281.5 L160.59,281.5 L160.84,281.5 L161.09,281.5 L161.34,281.5 L161.59,281.5 L161.84,281.5 L162.09,281.5 L162.34,281.51 L162.59,281.51 L162.85,281.51 L163.1,281.51 L163.35,281.51 L163.6,281.51 L163.85,281.51 L164.1,281.52 L164.35,281.52 L164.6,281.52 L164.85,281.52 L165.1,281.53 L165.35,281.53 L165.6,281.53 L165.86,281.53 L166.11,281.54 L166.36,281.54 L166.61,281.54 L166.86,281.54 L167.11,281.55 L167.36,281.55 L167.61,281.55 L167.86,281.56 L168.11,281.56 L168.36,281.56 L168.62,281.57 L168.87,281.57 L169.12,281.57 L169.37,281.58 L169.62,281.58 L169.87,281.59 L170.12,281.59 L170.37,281.59 L170.62,281.6 L170.87,281.6 L171.12,281.61 L171.38,281.61 L171.63,281.62 L171.88,281.63 L172.13,281.63 L172.38,281.64 L172.63,281.65 L172.88,281.66 L173.13,281.67 L173.38,281.68 L173.63,281.69 L173.88,281.71 L174.14,281.72 L174.39,281.73 L174.64,281.75 L174.89,281.76 L175.14,281.78 L175.39,281.79 L175.64,281.81 L175.89,281.83 L176.14,281.85 L176.39,281.86 L176.64,281.88 L176.9,281.9 L177.15,281.92 L177.4,281.95 L177.65,281.97 L177.9,281.99 L178.15,282.01 L178.4,282.04 L178.65,282.08 L178.9,282.12 L179.15,282.16 L179.4,282.21 L179.66,282.26 L179.91,282.31 L180.16,282.37 L180.41,282.43 L180.66,282.49 L180.91,282.55 L181.16,282.62 L181.41,282.69 L181.66,282.76 L181.91,282.85 L182.16,282.94 L182.42,283.03 L182.67,283.13 L182.92,283.24 L183.17,283.35 L183.42,283.46 L183.67,283.58 L183.92,283.7 L184.17,283.83 L184.42,283.97 L184.67,284.12 L184.92,284.27 L185.18,284.43 L185.43,284.6 L185.68,284.79 L185.93,284.98 L186.18,285.19 L186.43,285.42 L186.68,285.68 L186.93,285.97 L187.18,286.29 L187.43,286.64 L187.68,287.01 L187.94,287.41 L188.19,287.82 L188.44,288.26 L188.69,288.7 L188.94,289.17 L189.19,289.64 L189.44,290.11 L189.69,290.6 L189.94,291.08 L190.19,291.57 L190.44,292.05 L190.7,292.53 L190.95,293 L191.2,293.46 L191.45,293.91 L191.7,294.35 L191.95,294.79 L192.2,295.24 L192.45,295.69 L192.7,296.14 L192.95,296.59 L193.2,297.05 L193.45,297.51 L193.71,297.97 L193.96,298.43 L194.21,298.89 L194.46,299.35 L194.71,299.82 L194.96,300.28 L195.21,300.75 L195.46,301.21 L195.71,301.67 L195.96,302.13 L196.21,302.6 L196.47,303.05 L196.72,303.51 L196.97,303.99 L197.22,304.48 L197.47,304.98 L197.72,305.49 L197.97,305.99 L198.22,306.49 L198.47,306.98 L198.72,307.46 L198.97,307.92 L199.23,308.35 L199.48,308.76 L199.73,309.14 L199.98,309.47 L200.23,309.79 L200.48,310.12 L200.73,310.45 L200.98,310.78 L201.23,311.09 L201.48,311.38 L201.73,311.64 L201.99,311.86 L202.24,312.03 L202.49,312.15 L202.74,312.2 L202.99,312.19 L203.24,312.16 L203.49,312.11 L203.74,312.03 L203.99,311.94 L204.24,311.84 L204.49,311.74 L204.75,311.62 L205,311.5 L205.25,311.34 L205.5,311.15 L205.75,310.93 L206,310.68 L206.25,310.41 L206.5,310.12 L206.75,309.81 L207,309.5 L207.25,309.15 L207.51,308.77 L207.76,308.34 L208.01,307.89 L208.26,307.4 L208.51,306.87 L208.76,306.32 L209.01,305.75 L209.26,305.14 L209.51,304.52 L209.76,303.88 L210.01,303.22 L210.27,302.54 L210.52,301.85 L210.77,301.15 L211.02,300.43 L211.27,299.71 L211.52,298.93 L211.77,298.1 L212.02,297.23 L212.27,296.32 L212.52,295.38 L212.77,294.4 L213.03,293.4 L213.28,292.37 L213.53,291.32 L213.78,290.25 L214.03,289.17 L214.28,288.09 L214.53,287 L214.78,285.9 L215.03,284.81 L215.28,283.73 L215.53,282.66 L215.79,281.61 L216.04,280.57 L216.29,279.55 L216.54,278.54 L216.79,277.51 L217.04,276.46 L217.29,275.39 L217.54,274.32 L217.79,273.24 L218.04,272.15 L218.29,271.07 L218.55,269.98 L218.8,268.91 L219.05,267.84 L219.3,266.79 L219.55,265.76 L219.8,264.75 L220.05,263.76 L220.3,262.8 L220.55,261.87 L220.8,260.97 L221.05,260.12 L221.3,259.3 L221.56,258.53 L221.81,257.77 L222.06,257.01 L222.31,256.25 L222.56,255.51 L222.81,254.79 L223.06,254.11 L223.31,253.46 L223.56,252.86 L223.81,252.32 L224.06,251.85 L224.32,251.44 L224.57,251.12 L224.82,250.82 L225.07,250.53 L225.32,250.25 L225.57,250 L225.82,249.78 L226.07,249.6 L226.32,249.48 L226.57,249.41 L226.82,249.41 L227.08,249.47 L227.33,249.58 L227.58,249.73 L227.83,249.92 L228.08,250.13 L228.33,250.35 L228.58,250.58 L228.83,250.86 L229.08,251.19 L229.33,251.59 L229.58,252.03 L229.84,252.51 L230.09,253.02 L230.34,253.56 L230.59,254.12 L230.84,254.69 L231.09,255.3 L231.34,255.97 L231.59,256.69 L231.84,257.46 L232.09,258.26 L232.34,259.11 L232.6,259.99 L232.85,260.89 L233.1,261.82 L233.35,262.77 L233.6,263.73 L233.85,264.69 L234.1,265.67 L234.35,266.64 L234.6,267.6 L234.85,268.55 L235.1,269.49 L235.36,270.48 L235.61,271.52 L235.86,272.59 L236.11,273.7 L236.36,274.82 L236.61,275.96 L236.86,277.09 L237.11,278.22 L237.36,279.33 L237.61,280.41 L237.86,281.45 L238.12,282.44 L238.37,283.38 L238.62,284.25 L238.87,285.04 L239.12,285.75 L239.37,286.42 L239.62,287.07 L239.87,287.68 L240.12,288.24 L240.37,288.72 L240.62,289.1 L240.88,289.37 L241.13,289.61 L241.38,289.83 L241.63,290.01 L241.88,290.13 L242.13,290.2 L242.38,290.2 L242.63,290.19 L242.88,290.18 L243.13,290.16 L243.38,290.14 L243.64,290.11 L243.89,290.08 L244.14,290.05 L244.39,290.02 L244.64,289.98 L244.89,289.93 L245.14,289.86 L245.39,289.78 L245.64,289.68 L245.89,289.58 L246.14,289.46 L246.4,289.34 L246.65,289.21 L246.9,289.08 L247.15,288.94 L247.4,288.8 L247.65,288.65 L247.9,288.49 L248.15,288.31 L248.4,288.12 L248.65,287.92 L248.9,287.7 L249.15,287.48 L249.41,287.24 L249.66,286.99 L249.91,286.74 L250.16,286.48 L250.41,286.21 L250.66,285.94 L250.91,285.66 L251.16,285.38 L251.41,285.09 L251.66,284.8 L251.91,284.51 L252.17,284.22 L252.42,283.93 L252.67,283.65 L252.92,283.36 L253.17,283.08 L253.42,282.8 L253.67,282.52 L253.92,282.25 L254.17,281.97 L254.42,281.69 L254.67,281.41 L254.93,281.13 L255.18,280.84 L255.43,280.56 L255.68,280.27 L255.93,279.98 L256.18,279.69 L256.43,279.39 L256.68,279.1 L256.93,278.8 L257.18,278.5 L257.43,278.2 L257.69,277.9 L257.94,277.59 L258.19,277.29 L258.44,276.98 L258.69,276.67 L258.94,276.36 L259.19,276.04 L259.44,275.73 L259.69,275.41 L259.94,275.09 L260.19,274.77 L260.45,274.44 L260.7,274.12 L260.95,273.79 L261.2,273.46 L261.45,273.13 L261.7,272.8" fill="none" stroke="#1010f5" stroke-width="1.4" stroke-linejoin="round" stroke-linecap="round"/>
<text x="158.4" y="265.6" font-size="9.4" font-weight="bold" fill="#1010f5" letter-spacing="-0.15">θ<tspan font-size="6.2" dy="2">c</tspan><tspan dy="-2">=0.238°</tspan></text>
<rect x="150.2" y="238.7" width="111.5" height="81.3" fill="none" stroke="#000" stroke-width="1.2"/>
<text x="321" y="231.8" font-size="12" font-weight="bold">(d)</text>
<path d="M315.1,238.3h3.2M315.1,265.3h3.2M315.1,257.17h1.8M315.1,252.42h1.8M315.1,249.04h1.8M315.1,246.43h1.8M315.1,244.29h1.8M315.1,242.48h1.8M315.1,240.92h1.8M315.1,239.54h1.8M315.1,292.3h3.2M315.1,284.17h1.8M315.1,279.42h1.8M315.1,276.04h1.8M315.1,273.43h1.8M315.1,271.29h1.8M315.1,269.48h1.8M315.1,267.92h1.8M315.1,266.54h1.8M315.1,319.3h3.2M315.1,311.17h1.8M315.1,306.42h1.8M315.1,303.04h1.8M315.1,300.43h1.8M315.1,298.29h1.8M315.1,296.48h1.8M315.1,294.92h1.8M315.1,293.54h1.8M315.1,346.3h3.2M315.1,338.17h1.8M315.1,333.42h1.8M315.1,330.04h1.8M315.1,327.43h1.8M315.1,325.29h1.8M315.1,323.48h1.8M315.1,321.92h1.8M315.1,320.54h1.8M315.1,373.3h3.2M315.1,365.17h1.8M315.1,360.42h1.8M315.1,357.04h1.8M315.1,354.43h1.8M315.1,352.29h1.8M315.1,350.48h1.8M315.1,348.92h1.8M315.1,347.54h1.8M315.1,400.3h3.2M315.1,392.17h1.8M315.1,387.42h1.8M315.1,384.04h1.8M315.1,381.43h1.8M315.1,379.29h1.8M315.1,377.48h1.8M315.1,375.92h1.8M315.1,374.54h1.8M315.1,406.29h1.8M315.1,404.48h1.8M315.1,402.92h1.8M315.1,401.54h1.8" stroke="#000" stroke-width="1.0" fill="none"/>
<path d="M333.48,408.7v-3.2M370.25,408.7v-3.2M407.02,408.7v-3.2M443.79,408.7v-3.2M480.56,408.7v-3.2M517.32,408.7v-3.2M351.87,408.7v-1.8M388.64,408.7v-1.8M425.4,408.7v-1.8M462.17,408.7v-1.8M498.94,408.7v-1.8M535.71,408.7v-1.8" stroke="#000" stroke-width="1.1" fill="none"/>
<text x="333.48" y="421.4" font-size="11.4" text-anchor="middle">0.2</text>
<text x="370.25" y="421.4" font-size="11.4" text-anchor="middle">0.4</text>
<text x="407.02" y="421.4" font-size="11.4" text-anchor="middle">0.6</text>
<text x="443.79" y="421.4" font-size="11.4" text-anchor="middle">0.8</text>
<text x="480.56" y="421.4" font-size="11.4" text-anchor="middle">1.0</text>
<text x="517.32" y="421.4" font-size="11.4" text-anchor="middle">1.2</text>
<path d="M333.5,266.8 L333.76,266.7 L334.01,266.6 L334.27,266.5 L334.53,266.41 L334.79,266.32 L335.05,266.23 L335.3,266.15 L335.56,266.07 L335.82,265.99 L336.07,265.91 L336.33,265.84 L336.59,265.78 L336.85,265.71 L337.11,265.64 L337.36,265.56 L337.62,265.49 L337.88,265.43 L338.13,265.36 L338.39,265.31 L338.65,265.26 L338.91,265.23 L339.17,265.21 L339.42,265.2 L339.68,265.26 L339.94,265.41 L340.19,265.64 L340.45,265.95 L340.71,266.33 L340.97,266.76 L341.23,267.25 L341.48,267.8 L341.74,268.74 L342,270.14 L342.25,271.95 L342.51,274.14 L342.77,276.64 L343.03,279.41 L343.29,282.41 L343.54,285.59 L343.8,288.9 L344,288.39 L344.2,287.05 L344.4,285.21 L344.6,283.23 L344.8,281.31 L345,279.54 L345.2,277.99 L345.4,276.66 L345.6,275.55 L345.8,274.66 L346,273.97 L346.2,273.48 L346.4,273.2 L346.6,273.1 L346.81,273.24 L347.03,273.65 L347.24,274.35 L347.45,275.33 L347.67,276.6 L347.88,278.18 L348.09,280.08 L348.31,282.3 L348.52,284.83 L348.73,287.64 L348.95,290.64 L349.16,293.67 L349.37,296.4 L349.59,298.37 L349.8,299.1 L350.01,298.73 L350.23,297.73 L350.44,296.3 L350.65,294.69 L350.86,293.06 L351.07,291.51 L351.29,290.08 L351.5,288.81 L351.71,287.7 L351.93,286.75 L352.14,285.96 L352.35,285.32 L352.56,284.83 L352.77,284.48 L352.99,284.27 L353.2,284.2 L353.41,284.29 L353.61,284.57 L353.82,285.04 L354.02,285.69 L354.23,286.54 L354.43,287.59 L354.64,288.85 L354.84,290.32 L355.05,292 L355.26,293.9 L355.46,296 L355.67,298.29 L355.87,300.71 L356.08,303.17 L356.28,305.52 L356.49,307.53 L356.69,308.91 L356.9,309.4 L357.1,309.02 L357.3,307.96 L357.5,306.45 L357.7,304.7 L357.9,302.9 L358.1,301.16 L358.3,299.53 L358.5,298.06 L358.7,296.75 L358.9,295.61 L359.1,294.63 L359.3,293.82 L359.5,293.16 L359.7,292.65 L359.9,292.29 L360.1,292.07 L360.3,292 L360.5,292.06 L360.71,292.25 L360.91,292.57 L361.12,293.02 L361.32,293.6 L361.53,294.32 L361.73,295.17 L361.93,296.16 L362.14,297.29 L362.34,298.57 L362.55,299.99 L362.75,301.56 L362.96,303.28 L363.16,305.15 L363.37,307.13 L363.57,309.23 L363.77,311.39 L363.98,313.55 L364.18,315.62 L364.39,317.48 L364.59,318.98 L364.8,319.96 L365,320.3 L365.21,319.98 L365.41,319.08 L365.62,317.75 L365.82,316.17 L366.03,314.49 L366.23,312.82 L366.44,311.22 L366.64,309.73 L366.85,308.36 L367.05,307.14 L367.26,306.05 L367.46,305.11 L367.67,304.3 L367.87,303.62 L368.08,303.07 L368.28,302.64 L368.49,302.34 L368.69,302.16 L368.9,302.1 L369.1,302.15 L369.31,302.31 L369.51,302.58 L369.72,302.95 L369.92,303.44 L370.12,304.03 L370.33,304.74 L370.53,305.56 L370.74,306.5 L370.94,307.56 L371.14,308.73 L371.35,310.04 L371.55,311.46 L371.76,313.01 L371.96,314.68 L372.16,316.46 L372.37,318.33 L372.57,320.27 L372.78,322.24 L372.98,324.18 L373.18,326 L373.39,327.61 L373.59,328.89 L373.8,329.71 L374,330 L374.2,329.75 L374.41,329.03 L374.61,327.96 L374.82,326.65 L375.02,325.22 L375.23,323.76 L375.43,322.33 L375.64,320.97 L375.84,319.7 L376.05,318.53 L376.25,317.47 L376.46,316.52 L376.66,315.68 L376.87,314.94 L377.07,314.31 L377.28,313.78 L377.48,313.36 L377.69,313.02 L377.89,312.79 L378.1,312.65 L378.3,312.6 L378.5,312.65 L378.71,312.78 L378.91,313.02 L379.12,313.34 L379.32,313.76 L379.52,314.27 L379.73,314.89 L379.93,315.6 L380.13,316.41 L380.34,317.33 L380.54,318.35 L380.75,319.48 L380.95,320.71 L381.15,322.05 L381.36,323.5 L381.56,325.05 L381.77,326.68 L381.97,328.4 L382.17,330.16 L382.38,331.94 L382.58,333.67 L382.78,335.29 L382.99,336.71 L383.19,337.83 L383.4,338.55 L383.6,338.8 L383.8,338.57 L384.01,337.9 L384.21,336.9 L384.42,335.68 L384.62,334.35 L384.83,332.99 L385.03,331.66 L385.24,330.39 L385.44,329.21 L385.65,328.12 L385.85,327.13 L386.06,326.25 L386.26,325.47 L386.47,324.78 L386.67,324.2 L386.88,323.7 L387.08,323.3 L387.29,322.99 L387.49,322.77 L387.7,322.64 L387.9,322.6 L388.1,322.64 L388.3,322.77 L388.5,322.99 L388.7,323.3 L388.9,323.69 L389.1,324.18 L389.3,324.76 L389.5,325.43 L389.7,326.19 L389.9,327.06 L390.1,328.02 L390.3,329.08 L390.5,330.25 L390.7,331.51 L390.9,332.87 L391.1,334.33 L391.3,335.88 L391.5,337.49 L391.7,339.15 L391.9,340.83 L392.1,342.46 L392.3,343.99 L392.5,345.33 L392.7,346.39 L392.9,347.07 L393.1,347.3 L393.31,347.05 L393.52,346.34 L393.73,345.29 L393.94,344.02 L394.15,342.66 L394.36,341.28 L394.57,339.94 L394.78,338.68 L394.99,337.52 L395.2,336.46 L395.41,335.51 L395.62,334.67 L395.83,333.94 L396.04,333.31 L396.25,332.78 L396.46,332.35 L396.67,332.02 L396.88,331.79 L397.09,331.65 L397.3,331.6 L397.5,331.64 L397.71,331.76 L397.91,331.95 L398.11,332.23 L398.32,332.59 L398.52,333.03 L398.73,333.55 L398.93,334.15 L399.13,334.85 L399.34,335.63 L399.54,336.49 L399.74,337.45 L399.95,338.5 L400.15,339.64 L400.36,340.87 L400.56,342.19 L400.76,343.6 L400.97,345.07 L401.17,346.61 L401.37,348.18 L401.58,349.75 L401.78,351.27 L401.99,352.68 L402.19,353.91 L402.39,354.87 L402.6,355.49 L402.8,355.7 L403,355.48 L403.21,354.84 L403.41,353.87 L403.62,352.69 L403.82,351.38 L404.03,350.02 L404.23,348.68 L404.44,347.4 L404.64,346.19 L404.85,345.06 L405.05,344.03 L405.25,343.1 L405.46,342.26 L405.66,341.52 L405.87,340.87 L406.07,340.31 L406.28,339.85 L406.48,339.47 L406.69,339.17 L406.89,338.97 L407.1,338.84 L407.3,338.8 L407.5,338.84 L407.71,338.95 L407.91,339.14 L408.12,339.41 L408.32,339.76 L408.52,340.18 L408.73,340.69 L408.93,341.27 L409.13,341.94 L409.34,342.7 L409.54,343.54 L409.75,344.47 L409.95,345.49 L410.15,346.59 L410.36,347.78 L410.56,349.06 L410.77,350.41 L410.97,351.82 L411.17,353.28 L411.38,354.74 L411.58,356.17 L411.78,357.51 L411.99,358.68 L412.19,359.6 L412.4,360.2 L412.6,360.4 L412.8,360.24 L413.01,359.77 L413.21,359.05 L413.42,358.15 L413.62,357.14 L413.83,356.08 L414.03,355.01 L414.23,353.96 L414.44,352.96 L414.64,352.01 L414.85,351.13 L415.05,350.32 L415.25,349.58 L415.46,348.9 L415.66,348.3 L415.87,347.77 L416.07,347.3 L416.27,346.9 L416.48,346.56 L416.68,346.28 L416.89,346.07 L417.09,345.92 L417.3,345.83 L417.5,345.8 L417.7,345.83 L417.91,345.94 L418.11,346.11 L418.32,346.36 L418.52,346.68 L418.72,347.07 L418.93,347.53 L419.13,348.07 L419.34,348.68 L419.54,349.38 L419.74,350.15 L419.95,351.01 L420.15,351.94 L420.36,352.96 L420.56,354.05 L420.76,355.22 L420.97,356.45 L421.17,357.72 L421.38,359.01 L421.58,360.28 L421.78,361.48 L421.99,362.53 L422.19,363.37 L422.4,363.91 L422.6,364.1 L422.81,363.96 L423.02,363.56 L423.22,362.94 L423.43,362.15 L423.64,361.26 L423.85,360.32 L424.06,359.36 L424.26,358.41 L424.47,357.5 L424.68,356.63 L424.89,355.82 L425.1,355.06 L425.3,354.37 L425.51,353.73 L425.72,353.16 L425.93,352.64 L426.14,352.19 L426.34,351.79 L426.55,351.44 L426.76,351.15 L426.97,350.92 L427.18,350.73 L427.38,350.6 L427.59,350.53 L427.8,350.5 L428,350.52 L428.21,350.59 L428.41,350.71 L428.61,350.87 L428.82,351.08 L429.02,351.34 L429.22,351.65 L429.43,352.01 L429.63,352.41 L429.83,352.87 L430.04,353.38 L430.24,353.94 L430.44,354.56 L430.65,355.22 L430.85,355.95 L431.05,356.72 L431.26,357.56 L431.46,358.44 L431.66,359.37 L431.87,360.34 L432.07,361.35 L432.27,362.38 L432.48,363.41 L432.68,364.43 L432.88,365.39 L433.09,366.27 L433.29,367.03 L433.49,367.61 L433.7,367.97 L433.9,368.1 L434.1,367.94 L434.31,367.5 L434.51,366.81 L434.72,365.97 L434.92,365.02 L435.13,364.04 L435.33,363.05 L435.53,362.1 L435.74,361.19 L435.94,360.34 L436.15,359.56 L436.35,358.84 L436.56,358.19 L436.76,357.61 L436.97,357.1 L437.17,356.64 L437.37,356.26 L437.58,355.93 L437.78,355.67 L437.99,355.46 L438.19,355.32 L438.4,355.23 L438.6,355.2 L438.81,355.22 L439.01,355.29 L439.22,355.4 L439.43,355.56 L439.64,355.76 L439.84,356.01 L440.05,356.31 L440.26,356.66 L440.46,357.05 L440.67,357.49 L440.88,357.99 L441.09,358.53 L441.29,359.13 L441.5,359.78 L441.71,360.48 L441.91,361.24 L442.12,362.04 L442.33,362.89 L442.54,363.77 L442.74,364.69 L442.95,365.62 L443.16,366.55 L443.36,367.44 L443.57,368.26 L443.78,368.97 L443.99,369.53 L444.19,369.88 L444.4,370 L444.6,369.88 L444.8,369.54 L445,369.02 L445.2,368.37 L445.4,367.64 L445.6,366.86 L445.8,366.09 L446,365.33 L446.2,364.6 L446.4,363.91 L446.6,363.27 L446.8,362.68 L447,362.14 L447.2,361.65 L447.4,361.22 L447.6,360.83 L447.8,360.49 L448,360.2 L448.2,359.95 L448.4,359.75 L448.6,359.6 L448.8,359.49 L449,359.42 L449.2,359.4 L449.4,359.42 L449.6,359.48 L449.8,359.58 L450,359.72 L450.2,359.9 L450.4,360.13 L450.6,360.39 L450.8,360.7 L451,361.05 L451.2,361.45 L451.4,361.89 L451.6,362.38 L451.8,362.91 L452,363.49 L452.2,364.11 L452.4,364.79 L452.6,365.5 L452.8,366.27 L453,367.06 L453.2,367.9 L453.4,368.75 L453.6,369.62 L453.8,370.47 L454,371.29 L454.2,372.03 L454.4,372.68 L454.6,373.18 L454.8,373.49 L455,373.6 L455.21,373.5 L455.42,373.19 L455.62,372.73 L455.83,372.14 L456.04,371.47 L456.25,370.76 L456.46,370.04 L456.66,369.33 L456.87,368.65 L457.08,368 L457.29,367.39 L457.5,366.82 L457.7,366.3 L457.91,365.83 L458.12,365.39 L458.33,365.01 L458.54,364.66 L458.74,364.36 L458.95,364.11 L459.16,363.89 L459.37,363.71 L459.58,363.58 L459.78,363.48 L459.99,363.42 L460.2,363.4 L460.4,363.42 L460.61,363.48 L460.81,363.59 L461.01,363.74 L461.22,363.93 L461.42,364.16 L461.63,364.44 L461.83,364.77 L462.03,365.14 L462.24,365.55 L462.44,366.02 L462.64,366.53 L462.85,367.09 L463.05,367.7 L463.26,368.36 L463.46,369.07 L463.66,369.82 L463.87,370.61 L464.07,371.43 L464.27,372.27 L464.48,373.11 L464.68,373.93 L464.89,374.68 L465.09,375.34 L465.29,375.86 L465.5,376.19 L465.7,376.3 L465.9,376.21 L466.11,375.96 L466.31,375.57 L466.52,375.08 L466.72,374.53 L466.92,373.94 L467.13,373.34 L467.33,372.74 L467.54,372.17 L467.74,371.63 L467.94,371.13 L468.15,370.65 L468.35,370.22 L468.56,369.82 L468.76,369.46 L468.96,369.14 L469.17,368.85 L469.37,368.6 L469.58,368.39 L469.78,368.21 L469.98,368.06 L470.19,367.95 L470.39,367.86 L470.6,367.82 L470.8,367.8 L471,367.82 L471.21,367.87 L471.41,367.96 L471.61,368.08 L471.82,368.24 L472.02,368.44 L472.22,368.67 L472.43,368.94 L472.63,369.24 L472.83,369.59 L473.04,369.97 L473.24,370.4 L473.44,370.86 L473.65,371.37 L473.85,371.92 L474.06,372.5 L474.26,373.13 L474.46,373.79 L474.67,374.49 L474.87,375.22 L475.07,375.97 L475.28,376.72 L475.48,377.47 L475.68,378.18 L475.89,378.83 L476.09,379.39 L476.29,379.83 L476.5,380.11 L476.7,380.2 L476.9,380.13 L477.11,379.92 L477.31,379.59 L477.51,379.17 L477.72,378.69 L477.92,378.17 L478.13,377.64 L478.33,377.11 L478.53,376.58 L478.74,376.08 L478.94,375.6 L479.14,375.16 L479.35,374.74 L479.55,374.35 L479.76,373.99 L479.96,373.66 L480.16,373.37 L480.37,373.1 L480.57,372.87 L480.77,372.66 L480.98,372.49 L481.18,372.34 L481.39,372.21 L481.59,372.12 L481.79,372.05 L482,372.01 L482.2,372 L482.4,372.02 L482.61,372.07 L482.81,372.15 L483.01,372.27 L483.22,372.43 L483.42,372.62 L483.62,372.84 L483.83,373.1 L484.03,373.4 L484.24,373.74 L484.44,374.11 L484.64,374.52 L484.85,374.98 L485.05,375.47 L485.25,376 L485.46,376.57 L485.66,377.18 L485.86,377.82 L486.07,378.49 L486.27,379.18 L486.47,379.89 L486.68,380.59 L486.88,381.26 L487.09,381.89 L487.29,382.42 L487.49,382.84 L487.7,383.11 L487.9,383.2 L488.1,383.15 L488.3,383.01 L488.5,382.79 L488.7,382.51 L488.9,382.17 L489.1,381.8 L489.3,381.41 L489.5,381.02 L489.7,380.63 L489.9,380.25 L490.1,379.88 L490.3,379.52 L490.5,379.19 L490.7,378.87 L490.9,378.57 L491.1,378.3 L491.3,378.04 L491.5,377.81 L491.7,377.6 L491.9,377.4 L492.1,377.23 L492.3,377.07 L492.5,376.94 L492.7,376.82 L492.9,376.72 L493.1,376.64 L493.3,376.58 L493.5,376.54 L493.7,376.51 L493.9,376.5 L494.1,376.52 L494.31,376.57 L494.51,376.65 L494.71,376.78 L494.92,376.93 L495.12,377.12 L495.33,377.35 L495.53,377.61 L495.73,377.91 L495.94,378.25 L496.14,378.63 L496.34,379.05 L496.55,379.51 L496.75,380 L496.96,380.54 L497.16,381.12 L497.36,381.73 L497.57,382.37 L497.77,383.04 L497.97,383.72 L498.18,384.41 L498.38,385.07 L498.59,385.69 L498.79,386.22 L498.99,386.64 L499.2,386.91 L499.4,387 L499.6,386.93 L499.8,386.73 L500,386.41 L500.2,386.01 L500.4,385.55 L500.6,385.06 L500.8,384.56 L501,384.06 L501.2,383.58 L501.4,383.12 L501.6,382.68 L501.8,382.27 L502,381.89 L502.2,381.54 L502.4,381.22 L502.6,380.94 L502.8,380.68 L503,380.45 L503.2,380.25 L503.4,380.07 L503.6,379.93 L503.8,379.81 L504,379.72 L504.2,379.65 L504.4,379.61 L504.6,379.6 L504.8,379.61 L505.01,379.65 L505.21,379.74 L505.41,379.84 L505.62,379.96 L505.82,380.1 L506.02,380.29 L506.23,380.52 L506.43,380.79 L506.63,381.1 L506.84,381.44 L507.04,381.76 L507.24,382.1 L507.45,382.48 L507.65,382.88 L507.86,383.32 L508.06,383.81 L508.26,384.33 L508.47,384.87 L508.67,385.4 L508.87,385.9 L509.08,386.39 L509.28,386.86 L509.48,387.31 L509.69,387.93 L509.89,388.53 L510.09,389.04 L510.3,389.44 L510.5,389.51 L510.7,389.23 L510.9,388.85 L511.1,388.39 L511.3,387.85 L511.5,387.61 L511.7,387.35 L511.9,387.1 L512.1,386.84 L512.3,386.6 L512.5,386.35 L512.7,386.13 L512.9,385.93 L513.1,385.75 L513.3,385.65 L513.5,385.58 L513.7,385.53 L513.9,385.51 L514.1,385.33 L514.3,384.97 L514.5,384.62 L514.7,384.27 L514.9,383.93 L515.1,384.17 L515.3,384.42 L515.5,384.69 L515.7,384.98 L516.05,385.46 L516.39,385.84 L516.74,386.16 L517.08,385.86 L517.43,385.57 L517.77,385.79 L518.12,386.5 L518.47,387.22 L518.81,387.24 L519.16,387.21 L519.5,387.48 L519.85,388.39 L520.19,389.35 L520.54,389.96 L520.89,390.36 L521.23,390.79 L521.58,391.98 L521.92,393.02 L522.27,393.32 L522.61,392.73 L522.96,391.78 L523.31,391.3 L523.65,390.84 L524,390.29 L524.34,389.58 L524.69,389.21 L525.03,389.36 L525.38,389.76 L525.73,390.09 L526.07,389.65 L526.42,388.93 L526.76,388.17 L527.11,387.43 L527.45,386.49 L527.8,385.8" fill="none" stroke="#ff0000" stroke-width="1.7" stroke-linejoin="round" stroke-linecap="round"/>
<text x="329.4" y="387.9" font-size="11.95" font-weight="bold">AlN/Sapphire</text>
<rect x="315.1" y="238.4" width="229.8" height="170.3" fill="none" stroke="#000" stroke-width="1.75"/>
<text transform="translate(307.2,332.8) rotate(-90)" font-size="14.9" text-anchor="middle">Intensity (a.u.)</text>
<text x="429.8" y="437.8" font-size="15" text-anchor="middle">θ (°)</text>
<rect x="433.7" y="238.4" width="111.5" height="81" fill="#fff" stroke="none"/>
<path d="M433.7,245h2M433.7,253.6h1.3M433.7,262.2h2M433.7,270.8h1.3M433.7,279.4h2M433.7,288h1.3M433.7,296.6h2M433.7,305.2h1.3M433.7,313.8h2" stroke="#000" stroke-width="0.9" fill="none"/>
<path d="M447.14,319.4v-2M463.73,319.4v-2M480.32,319.4v-2M496.92,319.4v-2M513.51,319.4v-2M530.1,319.4v-2M438.84,319.4v-1.2M455.44,319.4v-1.2M472.03,319.4v-1.2M488.62,319.4v-1.2M505.21,319.4v-1.2M521.8,319.4v-1.2M538.4,319.4v-1.2" stroke="#000" stroke-width="0.9" fill="none"/>
<text x="447.14" y="326.2" font-size="5.3" text-anchor="middle" font-weight="bold">0.22</text>
<text x="463.73" y="326.2" font-size="5.3" text-anchor="middle" font-weight="bold">0.23</text>
<text x="480.32" y="326.2" font-size="5.3" text-anchor="middle" font-weight="bold">0.24</text>
<text x="496.92" y="326.2" font-size="5.3" text-anchor="middle" font-weight="bold">0.25</text>
<text x="513.51" y="326.2" font-size="5.3" text-anchor="middle" font-weight="bold">0.26</text>
<text x="530.1" y="326.2" font-size="5.3" text-anchor="middle" font-weight="bold">0.27</text>
<text x="482.75" y="334" font-size="7.5" font-weight="bold" text-anchor="middle">θ (°)</text>
<text transform="translate(426.5,281.5) rotate(-90)" font-size="8.1" font-weight="bold" text-anchor="middle">d<tspan font-size="6" dy="-2.8">2</tspan><tspan dy="2.8">I/dθ</tspan><tspan font-size="6" dy="-2.8">2</tspan></text>
<path d="M484.5,238.4V319.4" stroke="#1010f5" stroke-width="1.1" stroke-dasharray="3.2,2.7,1,2.9" fill="none"/>
<path d="M433.7,286.6 L433.95,286.6 L434.2,286.6 L434.45,286.6 L434.7,286.6 L434.95,286.6 L435.2,286.6 L435.46,286.6 L435.71,286.6 L435.96,286.6 L436.21,286.6 L436.46,286.6 L436.71,286.6 L436.96,286.6 L437.21,286.6 L437.46,286.6 L437.71,286.6 L437.96,286.6 L438.21,286.6 L438.46,286.6 L438.72,286.6 L438.97,286.6 L439.22,286.6 L439.47,286.6 L439.72,286.6 L439.97,286.6 L440.22,286.6 L440.47,286.6 L440.72,286.6 L440.97,286.6 L441.22,286.6 L441.47,286.6 L441.73,286.6 L441.98,286.6 L442.23,286.6 L442.48,286.6 L442.73,286.6 L442.98,286.6 L443.23,286.6 L443.48,286.6 L443.73,286.6 L443.98,286.6 L444.23,286.6 L444.48,286.6 L444.73,286.6 L444.99,286.6 L445.24,286.6 L445.49,286.6 L445.74,286.6 L445.99,286.6 L446.24,286.6 L446.49,286.6 L446.74,286.61 L446.99,286.61 L447.24,286.61 L447.49,286.61 L447.74,286.61 L447.99,286.61 L448.25,286.62 L448.5,286.62 L448.75,286.62 L449,286.63 L449.25,286.63 L449.5,286.63 L449.75,286.64 L450,286.64 L450.25,286.64 L450.5,286.65 L450.75,286.65 L451,286.66 L451.26,286.66 L451.51,286.67 L451.76,286.67 L452.01,286.68 L452.26,286.68 L452.51,286.69 L452.76,286.69 L453.01,286.7 L453.26,286.7 L453.51,286.71 L453.76,286.72 L454.01,286.74 L454.26,286.75 L454.52,286.77 L454.77,286.79 L455.02,286.81 L455.27,286.83 L455.52,286.85 L455.77,286.87 L456.02,286.9 L456.27,286.93 L456.52,286.96 L456.77,286.98 L457.02,287.01 L457.27,287.04 L457.52,287.08 L457.78,287.11 L458.03,287.14 L458.28,287.17 L458.53,287.2 L458.78,287.24 L459.03,287.27 L459.28,287.31 L459.53,287.35 L459.78,287.39 L460.03,287.43 L460.28,287.48 L460.53,287.53 L460.78,287.58 L461.04,287.63 L461.29,287.68 L461.54,287.74 L461.79,287.8 L462.04,287.86 L462.29,287.92 L462.54,287.99 L462.79,288.06 L463.04,288.13 L463.29,288.2 L463.54,288.28 L463.79,288.37 L464.05,288.46 L464.3,288.56 L464.55,288.68 L464.8,288.8 L465.05,288.93 L465.3,289.07 L465.55,289.22 L465.8,289.37 L466.05,289.53 L466.3,289.7 L466.55,289.87 L466.8,290.05 L467.05,290.23 L467.31,290.42 L467.56,290.6 L467.81,290.79 L468.06,290.99 L468.31,291.18 L468.56,291.38 L468.81,291.58 L469.06,291.77 L469.31,291.97 L469.56,292.16 L469.81,292.36 L470.06,292.55 L470.31,292.74 L470.57,292.94 L470.82,293.14 L471.07,293.35 L471.32,293.56 L471.57,293.77 L471.82,293.98 L472.07,294.2 L472.32,294.42 L472.57,294.65 L472.82,294.87 L473.07,295.1 L473.32,295.33 L473.58,295.57 L473.83,295.8 L474.08,296.04 L474.33,296.28 L474.58,296.52 L474.83,296.76 L475.08,297 L475.33,297.25 L475.58,297.49 L475.83,297.74 L476.08,297.99 L476.33,298.23 L476.58,298.48 L476.84,298.74 L477.09,299 L477.34,299.26 L477.59,299.52 L477.84,299.79 L478.09,300.06 L478.34,300.33 L478.59,300.61 L478.84,300.88 L479.09,301.16 L479.34,301.44 L479.59,301.72 L479.84,301.99 L480.1,302.27 L480.35,302.55 L480.6,302.82 L480.85,303.09 L481.1,303.37 L481.35,303.63 L481.6,303.9 L481.85,304.19 L482.1,304.5 L482.35,304.84 L482.6,305.19 L482.85,305.53 L483.1,305.85 L483.36,306.14 L483.61,306.38 L483.86,306.56 L484.11,306.67 L484.36,306.7 L484.61,306.67 L484.86,306.61 L485.11,306.51 L485.36,306.39 L485.61,306.26 L485.86,306.11 L486.11,305.95 L486.37,305.78 L486.62,305.56 L486.87,305.29 L487.12,304.99 L487.37,304.65 L487.62,304.3 L487.87,303.94 L488.12,303.58 L488.37,303.19 L488.62,302.78 L488.87,302.36 L489.12,301.92 L489.37,301.46 L489.63,300.99 L489.88,300.5 L490.13,299.99 L490.38,299.48 L490.63,298.95 L490.88,298.41 L491.13,297.85 L491.38,297.29 L491.63,296.72 L491.88,296.14 L492.13,295.56 L492.38,294.96 L492.63,294.37 L492.89,293.76 L493.14,293.15 L493.39,292.54 L493.64,291.9 L493.89,291.25 L494.14,290.57 L494.39,289.88 L494.64,289.18 L494.89,288.45 L495.14,287.72 L495.39,286.97 L495.64,286.21 L495.9,285.44 L496.15,284.67 L496.4,283.88 L496.65,283.09 L496.9,282.29 L497.15,281.49 L497.4,280.69 L497.65,279.88 L497.9,279.07 L498.15,278.27 L498.4,277.46 L498.65,276.66 L498.9,275.87 L499.16,275.08 L499.41,274.29 L499.66,273.51 L499.91,272.71 L500.16,271.88 L500.41,271.05 L500.66,270.19 L500.91,269.33 L501.16,268.45 L501.41,267.57 L501.66,266.69 L501.91,265.81 L502.16,264.92 L502.42,264.04 L502.67,263.17 L502.92,262.31 L503.17,261.46 L503.42,260.62 L503.67,259.8 L503.92,259 L504.17,258.22 L504.42,257.47 L504.67,256.75 L504.92,256.05 L505.17,255.39 L505.42,254.76 L505.68,254.18 L505.93,253.62 L506.18,253.08 L506.43,252.53 L506.68,252 L506.93,251.47 L507.18,250.96 L507.43,250.48 L507.68,250.02 L507.93,249.58 L508.18,249.19 L508.43,248.82 L508.69,248.51 L508.94,248.23 L509.19,248.01 L509.44,247.82 L509.69,247.63 L509.94,247.45 L510.19,247.29 L510.44,247.16 L510.69,247.07 L510.94,247.01 L511.19,247 L511.44,247.06 L511.69,247.17 L511.95,247.32 L512.2,247.5 L512.45,247.71 L512.7,247.93 L512.95,248.15 L513.2,248.39 L513.45,248.67 L513.7,249 L513.95,249.36 L514.2,249.75 L514.45,250.18 L514.7,250.63 L514.95,251.11 L515.21,251.61 L515.46,252.13 L515.71,252.71 L515.96,253.34 L516.21,254.02 L516.46,254.74 L516.71,255.51 L516.96,256.31 L517.21,257.15 L517.46,258.01 L517.71,258.91 L517.96,259.82 L518.22,260.75 L518.47,261.69 L518.72,262.65 L518.97,263.6 L519.22,264.56 L519.47,265.52 L519.72,266.47 L519.97,267.41 L520.22,268.34 L520.47,269.25 L520.72,270.14 L520.97,271.04 L521.22,271.95 L521.48,272.88 L521.73,273.82 L521.98,274.77 L522.23,275.73 L522.48,276.7 L522.73,277.67 L522.98,278.65 L523.23,279.62 L523.48,280.6 L523.73,281.57 L523.98,282.54 L524.23,283.51 L524.48,284.47 L524.74,285.42 L524.99,286.35 L525.24,287.28 L525.49,288.2 L525.74,289.09 L525.99,289.97 L526.24,290.84 L526.49,291.68 L526.74,292.5 L526.99,293.29 L527.24,294.08 L527.49,294.86 L527.74,295.64 L528,296.41 L528.25,297.18 L528.5,297.93 L528.75,298.68 L529,299.42 L529.25,300.15 L529.5,300.87 L529.75,301.57 L530,302.27 L530.25,302.95 L530.5,303.62 L530.75,304.27 L531.01,304.9 L531.26,305.52 L531.51,306.13 L531.76,306.71 L532.01,307.28 L532.26,307.83 L532.51,308.37 L532.76,308.9 L533.01,309.42 L533.26,309.92 L533.51,310.39 L533.76,310.82 L534.01,311.22 L534.27,311.56 L534.52,311.87 L534.77,312.19 L535.02,312.49 L535.27,312.75 L535.52,312.92 L535.77,313 L536.02,312.98 L536.27,312.93 L536.52,312.83 L536.77,312.72 L537.02,312.58 L537.27,312.44 L537.53,312.28 L537.78,312.1 L538.03,311.86 L538.28,311.59 L538.53,311.27 L538.78,310.94 L539.03,310.59 L539.28,310.24 L539.53,309.89 L539.78,309.55 L540.03,309.2 L540.28,308.85 L540.54,308.49 L540.79,308.12 L541.04,307.75 L541.29,307.37 L541.54,306.98 L541.79,306.59 L542.04,306.19 L542.29,305.78 L542.54,305.37 L542.79,304.95 L543.04,304.52 L543.29,304.08 L543.54,303.64 L543.8,303.18 L544.05,302.72 L544.3,302.25 L544.55,301.78 L544.8,301.29 L545.05,300.8 L545.3,300.3" fill="none" stroke="#1010f5" stroke-width="1.4" stroke-linejoin="round" stroke-linecap="round"/>
<text x="443.5" y="268.2" font-size="9.4" font-weight="bold" fill="#1010f5" letter-spacing="-0.15">θ<tspan font-size="6.2" dy="2">c</tspan><tspan dy="-2">=0.242°</tspan></text>
<rect x="433.7" y="238.4" width="111.5" height="81" fill="none" stroke="#000" stroke-width="1.2"/>
</svg>
</body></html>
